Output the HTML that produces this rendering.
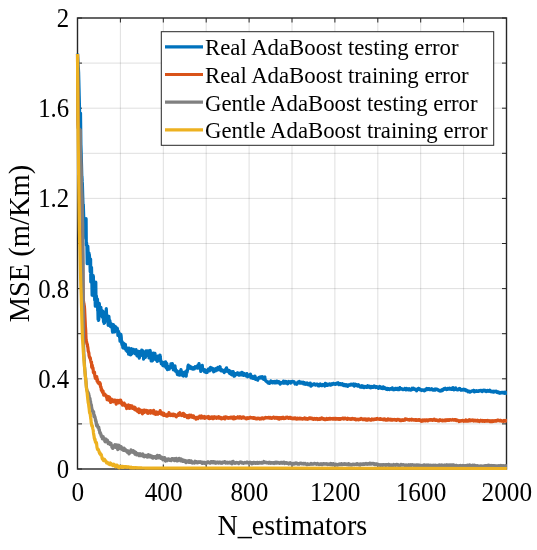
<!DOCTYPE html>
<html><head><meta charset="utf-8"><title>MSE vs N_estimators</title>
<style>
html,body{margin:0;padding:0;background:#fff;}
body{width:537px;height:550px;overflow:hidden;}
svg{display:block;}
text{font-family:"Liberation Serif","Times New Roman",serif;fill:#000;}
.xt text{font-size:25.3px;}
.yt text{font-size:24.8px;}
.lg text{font-size:22.78px;}
.grid line{stroke:#262626;stroke-opacity:0.15;stroke-width:1;}
.ticks line{stroke:#262626;stroke-width:1;}
.curve{fill:none;stroke-width:3.2;stroke-linejoin:round;stroke-linecap:butt;}
</style></head>
<body>
<svg width="537" height="550" viewBox="0 0 537 550">
<rect x="0" y="0" width="537" height="550" fill="#ffffff"/>
<g class="grid">
<line x1="120.40" y1="18.00" x2="120.40" y2="469.00"/>
<line x1="163.30" y1="18.00" x2="163.30" y2="469.00"/>
<line x1="206.20" y1="18.00" x2="206.20" y2="469.00"/>
<line x1="249.10" y1="18.00" x2="249.10" y2="469.00"/>
<line x1="292.00" y1="18.00" x2="292.00" y2="469.00"/>
<line x1="334.90" y1="18.00" x2="334.90" y2="469.00"/>
<line x1="377.80" y1="18.00" x2="377.80" y2="469.00"/>
<line x1="420.70" y1="18.00" x2="420.70" y2="469.00"/>
<line x1="463.60" y1="18.00" x2="463.60" y2="469.00"/>
<line x1="77.50" y1="423.90" x2="506.50" y2="423.90"/>
<line x1="77.50" y1="378.80" x2="506.50" y2="378.80"/>
<line x1="77.50" y1="333.70" x2="506.50" y2="333.70"/>
<line x1="77.50" y1="288.60" x2="506.50" y2="288.60"/>
<line x1="77.50" y1="243.50" x2="506.50" y2="243.50"/>
<line x1="77.50" y1="198.40" x2="506.50" y2="198.40"/>
<line x1="77.50" y1="153.30" x2="506.50" y2="153.30"/>
<line x1="77.50" y1="108.20" x2="506.50" y2="108.20"/>
<line x1="77.50" y1="63.10" x2="506.50" y2="63.10"/>
</g>
<g class="ticks">
<line x1="77.50" y1="469.00" x2="77.50" y2="464.50"/>
<line x1="77.50" y1="18.00" x2="77.50" y2="22.50"/>
<line x1="77.50" y1="469.00" x2="82.00" y2="469.00"/>
<line x1="506.50" y1="469.00" x2="502.00" y2="469.00"/>
<line x1="120.40" y1="469.00" x2="120.40" y2="464.50"/>
<line x1="120.40" y1="18.00" x2="120.40" y2="22.50"/>
<line x1="77.50" y1="423.90" x2="82.00" y2="423.90"/>
<line x1="506.50" y1="423.90" x2="502.00" y2="423.90"/>
<line x1="163.30" y1="469.00" x2="163.30" y2="464.50"/>
<line x1="163.30" y1="18.00" x2="163.30" y2="22.50"/>
<line x1="77.50" y1="378.80" x2="82.00" y2="378.80"/>
<line x1="506.50" y1="378.80" x2="502.00" y2="378.80"/>
<line x1="206.20" y1="469.00" x2="206.20" y2="464.50"/>
<line x1="206.20" y1="18.00" x2="206.20" y2="22.50"/>
<line x1="77.50" y1="333.70" x2="82.00" y2="333.70"/>
<line x1="506.50" y1="333.70" x2="502.00" y2="333.70"/>
<line x1="249.10" y1="469.00" x2="249.10" y2="464.50"/>
<line x1="249.10" y1="18.00" x2="249.10" y2="22.50"/>
<line x1="77.50" y1="288.60" x2="82.00" y2="288.60"/>
<line x1="506.50" y1="288.60" x2="502.00" y2="288.60"/>
<line x1="292.00" y1="469.00" x2="292.00" y2="464.50"/>
<line x1="292.00" y1="18.00" x2="292.00" y2="22.50"/>
<line x1="77.50" y1="243.50" x2="82.00" y2="243.50"/>
<line x1="506.50" y1="243.50" x2="502.00" y2="243.50"/>
<line x1="334.90" y1="469.00" x2="334.90" y2="464.50"/>
<line x1="334.90" y1="18.00" x2="334.90" y2="22.50"/>
<line x1="77.50" y1="198.40" x2="82.00" y2="198.40"/>
<line x1="506.50" y1="198.40" x2="502.00" y2="198.40"/>
<line x1="377.80" y1="469.00" x2="377.80" y2="464.50"/>
<line x1="377.80" y1="18.00" x2="377.80" y2="22.50"/>
<line x1="77.50" y1="153.30" x2="82.00" y2="153.30"/>
<line x1="506.50" y1="153.30" x2="502.00" y2="153.30"/>
<line x1="420.70" y1="469.00" x2="420.70" y2="464.50"/>
<line x1="420.70" y1="18.00" x2="420.70" y2="22.50"/>
<line x1="77.50" y1="108.20" x2="82.00" y2="108.20"/>
<line x1="506.50" y1="108.20" x2="502.00" y2="108.20"/>
<line x1="463.60" y1="469.00" x2="463.60" y2="464.50"/>
<line x1="463.60" y1="18.00" x2="463.60" y2="22.50"/>
<line x1="77.50" y1="63.10" x2="82.00" y2="63.10"/>
<line x1="506.50" y1="63.10" x2="502.00" y2="63.10"/>
<line x1="506.50" y1="469.00" x2="506.50" y2="464.50"/>
<line x1="506.50" y1="18.00" x2="506.50" y2="22.50"/>
<line x1="77.50" y1="18.00" x2="82.00" y2="18.00"/>
<line x1="506.50" y1="18.00" x2="502.00" y2="18.00"/>
</g>
<rect x="77.5" y="18.0" width="429.0" height="451.0" fill="none" stroke="#262626" stroke-width="1.4"/>
<clipPath id="cp"><rect x="75.5" y="18.0" width="431.4" height="454.0"/></clipPath>
<g clip-path="url(#cp)">
<polyline class="curve" stroke="#0072BD" points="77.5,53.6 77.7,57.3 77.9,61.0 78.1,64.8 78.4,68.6 78.6,72.3 78.8,80.1 79.0,88.1 79.2,96.0 79.4,103.7 79.6,112.9 79.9,121.9 80.1,131.2 80.3,137.7 80.5,113.1 80.7,128.2 80.9,145.1 81.2,153.5 81.4,161.0 81.6,168.2 81.8,176.2 82.0,177.7 82.2,181.9 82.4,184.2 82.7,195.4 82.9,201.5 83.1,207.2 83.3,204.0 83.5,210.0 83.7,216.0 83.9,223.8 84.2,225.4 84.4,224.5 84.6,228.9 84.8,227.4 85.0,229.9 85.2,231.7 85.4,233.1 85.7,238.3 85.9,238.7 86.1,218.7 86.3,245.2 86.5,242.2 86.7,245.9 86.9,245.7 87.2,263.6 87.4,251.5 87.6,248.0 87.8,246.1 88.0,249.8 88.2,259.6 88.5,258.9 88.7,255.2 88.9,252.8 89.1,254.3 89.3,254.3 89.5,256.6 89.7,260.5 90.0,263.4 90.2,271.8 90.4,271.2 90.6,259.0 90.8,282.0 91.0,282.1 91.2,274.5 91.5,267.4 91.7,275.0 91.9,283.5 92.1,295.1 92.3,293.9 92.5,290.1 92.7,294.6 93.0,278.8 93.2,275.7 93.4,276.7 93.6,287.7 93.8,295.9 94.0,291.2 94.3,291.9 94.5,292.6 94.7,300.2 94.9,299.2 95.1,298.5 95.3,306.1 95.5,305.1 95.8,282.2 96.0,300.2 96.2,299.5 96.4,295.8 96.6,298.7 96.8,305.6 97.0,301.1 97.3,303.5 97.5,299.2 97.7,310.8 97.9,310.6 98.1,319.5 98.3,319.2 98.5,320.4 98.8,319.1 99.0,311.7 99.2,303.4 99.4,304.1 99.6,307.1 99.8,315.2 100.0,310.2 100.3,310.5 100.5,310.4 100.7,309.3 100.9,307.3 101.1,310.8 101.3,314.2 101.6,315.4 101.8,315.6 102.0,314.5 102.2,317.2 102.4,312.2 102.6,312.4 102.8,311.2 103.1,314.7 103.3,316.4 103.5,321.7 103.7,321.3 103.9,319.9 104.1,323.5 104.3,317.6 104.6,322.7 104.8,314.3 105.0,315.4 105.2,312.2 105.4,313.8 105.6,316.3 105.8,315.5 106.1,312.6 106.3,308.7 106.5,313.2 106.7,316.6 106.9,320.4 107.1,317.9 107.4,317.4 107.6,315.9 107.8,321.4 108.0,322.8 108.2,325.4 108.4,320.7 108.6,319.0 108.9,316.3 109.1,319.1 109.3,319.7 109.5,321.8 109.7,323.4 109.9,320.6 110.1,322.4 110.4,323.0 110.6,326.7 110.8,326.7 111.0,326.0 111.2,323.6 111.4,324.8 111.6,327.4 111.9,324.9 112.1,327.9 112.3,329.0 112.5,331.5 112.7,332.2 112.9,331.9 113.1,328.0 113.4,324.6 113.6,328.2 113.8,328.1 114.0,329.3 114.2,328.5 114.4,331.6 114.7,331.8 114.9,329.5 115.1,329.4 115.3,326.3 115.5,329.5 115.7,329.9 115.9,329.3 116.2,327.7 116.4,328.6 116.6,330.2 116.8,331.3 117.0,331.0 117.2,328.1 117.4,328.8 117.7,331.4 117.9,335.3 118.1,333.8 118.3,331.1 118.5,331.3 118.7,333.6 118.9,334.8 119.2,333.0 119.4,333.9 119.6,337.4 119.8,337.9 120.0,341.1 120.2,338.5 120.5,336.8 120.7,335.7 120.9,334.4 121.1,335.7 121.3,337.7 121.5,342.6 121.7,343.2 122.0,344.8 122.2,341.5 122.4,345.0 122.6,345.6 122.8,347.4 123.0,347.9 123.2,346.2 123.5,343.1 123.7,343.3 123.9,344.6 124.1,345.8 124.3,348.5 124.5,348.1 124.7,346.6 125.0,345.3 125.2,344.5 125.4,344.4 125.6,346.9 125.8,348.7 126.0,350.3 126.2,349.1 126.5,349.6 126.7,350.9 126.9,351.2 127.1,351.4 127.3,348.1 127.5,350.2 127.8,349.3 128.0,350.5 128.2,349.7 128.4,353.0 128.6,354.1 128.8,350.9 129.0,348.1 129.3,348.5 129.5,351.7 129.7,351.1 129.9,349.5 130.1,353.6 130.3,354.8 130.5,354.2 130.8,354.7 131.0,354.6 131.2,353.2 131.4,348.6 131.6,351.9 131.8,353.8 132.0,353.2 132.3,352.9 132.5,351.1 132.7,351.7 132.9,352.9 133.1,352.9 133.3,351.5 133.5,349.4 133.8,350.3 134.0,351.0 134.2,351.4 134.4,349.8 134.6,352.4 134.8,351.6 135.1,353.5 135.3,353.8 135.5,351.8 135.7,350.1 135.9,349.7 136.1,349.6 136.3,351.2 136.6,352.9 136.8,354.1 137.0,355.9 137.2,352.6 137.4,354.6 137.6,355.2 137.8,356.1 138.1,352.6 138.3,351.9 138.5,351.3 138.7,352.6 138.9,354.0 139.1,354.2 139.3,358.1 139.6,355.8 139.8,355.2 140.0,351.7 140.2,352.2 140.4,353.9 140.6,353.0 140.9,353.4 141.1,354.3 141.3,353.7 141.5,352.5 141.7,350.1 141.9,350.9 142.1,354.4 142.4,355.7 142.6,354.5 142.8,352.5 143.0,350.9 143.2,352.6 143.4,355.2 143.6,359.2 143.9,356.4 144.1,356.6 144.3,354.8 144.5,354.7 144.7,354.1 144.9,355.8 145.1,356.2 145.4,357.4 145.6,354.3 145.8,354.5 146.0,353.2 146.2,350.9 146.4,351.2 146.6,351.6 146.9,353.7 147.1,353.5 147.3,354.6 147.5,354.0 147.7,351.4 147.9,350.8 148.2,351.8 148.4,355.8 148.6,354.3 148.8,356.7 149.0,358.0 149.2,356.0 149.4,354.9 149.7,352.6 149.9,353.6 150.1,350.3 150.3,351.9 150.5,352.4 150.7,354.3 150.9,357.4 151.2,361.0 151.4,360.3 151.6,356.8 151.8,353.9 152.0,356.0 152.2,359.4 152.4,360.8 152.7,360.2 152.9,357.6 153.1,355.7 153.3,353.0 153.5,353.0 153.7,354.8 154.0,356.1 154.2,359.1 154.4,357.7 154.6,355.9 154.8,353.6 155.0,353.5 155.2,357.4 155.5,356.8 155.7,358.9 155.9,358.6 156.1,359.8 156.3,358.6 156.5,358.8 156.7,360.2 157.0,360.8 157.2,361.3 157.4,360.4 157.6,357.0 157.8,356.1 158.0,356.7 158.2,360.2 158.5,360.4 158.7,359.9 158.9,359.5 159.1,359.8 159.3,360.7 159.5,358.4 159.7,358.0 160.0,355.0 160.2,356.6 160.4,357.8 160.6,359.7 160.8,361.7 161.0,361.3 161.3,363.8 161.5,363.3 161.7,361.9 161.9,363.0 162.1,362.0 162.3,362.4 162.5,364.2 162.8,365.5 163.0,365.0 163.2,364.0 163.4,363.3 163.6,362.8 163.8,362.6 164.0,363.6 164.3,366.1 164.5,364.8 164.7,363.7 164.9,365.2 165.1,365.5 165.3,364.6 165.5,361.8 165.8,363.5 166.0,365.6 166.2,368.0 166.4,363.0 166.6,364.1 166.8,363.5 167.1,366.0 167.3,368.2 167.5,369.7 167.7,369.3 167.9,366.6 168.1,367.5 168.3,367.0 168.6,367.4 168.8,366.7 169.0,368.4 169.2,369.2 169.4,368.5 169.6,367.7 169.8,367.2 170.1,366.5 170.3,366.2 170.5,367.5 170.7,366.4 170.9,363.9 171.1,364.2 171.3,364.3 171.6,367.1 171.8,366.9 172.0,366.5 172.2,365.8 172.4,363.7 172.6,366.2 172.8,366.7 173.1,368.5 173.3,369.8 173.5,367.7 173.7,367.7 173.9,367.9 174.1,367.4 174.4,367.9 174.6,369.7 174.8,368.0 175.0,365.8 175.2,368.7 175.4,368.4 175.6,371.3 175.9,370.5 176.1,371.0 176.3,371.2 176.5,372.1 176.7,370.5 176.9,371.3 177.1,372.0 177.4,374.6 177.6,374.6 177.8,372.4 178.0,372.3 178.2,371.7 178.4,373.3 178.6,374.0 178.9,372.7 179.1,374.0 179.3,375.1 179.5,375.1 179.7,374.0 179.9,373.2 180.2,371.1 180.4,372.0 180.6,372.2 180.8,371.5 181.0,369.7 181.2,371.7 181.4,373.1 181.7,375.1 181.9,375.1 182.1,373.8 182.3,372.8 182.5,372.0 182.7,373.8 182.9,375.1 183.2,373.8 183.4,376.1 183.6,373.7 183.8,374.9 184.0,373.1 184.2,374.7 184.4,374.8 184.7,374.5 184.9,374.0 185.1,374.4 185.3,371.9 185.5,371.6 185.7,372.4 185.9,375.6 186.2,376.1 186.4,373.7 186.6,371.9 186.8,370.6 187.0,372.5 187.2,371.4 187.5,370.3 187.7,369.3 187.9,366.5 188.1,365.8 188.3,365.1 188.5,366.7 188.7,368.3 189.0,367.1 189.2,367.2 189.4,368.3 189.6,367.6 189.8,367.8 190.0,367.6 190.2,366.4 190.5,367.2 190.7,368.3 190.9,367.6 191.1,368.5 191.3,367.5 191.5,367.2 191.7,367.9 192.0,367.7 192.2,368.6 192.4,368.8 192.6,368.3 192.8,368.3 193.0,369.1 193.3,368.3 193.5,368.2 193.7,367.6 193.9,367.5 194.1,367.9 194.3,369.0 194.5,368.4 194.8,367.3 195.0,367.4 195.2,366.7 195.4,367.7 195.6,366.8 195.8,366.6 196.0,366.9 196.3,367.2 196.5,367.3 196.7,367.9 196.9,366.3 197.1,366.3 197.3,367.2 197.5,368.1 197.8,366.5 198.0,365.0 198.2,365.3 198.4,366.0 198.6,365.9 198.8,365.5 199.0,363.6 199.3,364.8 199.5,365.7 199.7,366.7 199.9,368.3 200.1,368.2 200.3,369.4 200.6,369.6 200.8,371.5 201.0,370.8 201.2,368.6 201.4,368.2 201.6,367.1 201.8,366.1 202.1,366.1 202.3,365.4 202.5,367.4 202.7,369.5 202.9,369.7 203.1,369.9 203.3,370.1 203.6,369.4 203.8,369.3 204.0,370.3 204.2,370.7 204.4,371.4 204.6,371.9 204.8,371.0 205.1,369.8 205.3,371.3 205.5,371.5 205.7,371.5 205.9,372.0 206.1,372.6 206.3,372.6 206.6,370.7 206.8,371.3 207.0,371.7 207.2,372.4 207.4,371.1 207.6,371.2 207.9,371.0 208.1,370.7 208.3,369.1 208.5,369.2 208.7,369.5 208.9,370.0 209.1,370.7 209.4,370.8 209.6,370.9 209.8,369.1 210.0,368.0 210.2,367.6 210.4,367.5 210.6,369.4 210.9,368.9 211.1,368.8 211.3,369.2 211.5,368.4 211.7,368.2 211.9,369.4 212.1,369.4 212.4,370.1 212.6,368.4 212.8,368.6 213.0,368.9 213.2,369.8 213.4,370.5 213.7,371.8 213.9,369.3 214.1,369.1 214.3,370.0 214.5,371.0 214.7,370.2 214.9,369.8 215.2,370.1 215.4,370.4 215.6,370.9 215.8,368.5 216.0,368.8 216.2,368.4 216.4,368.9 216.7,368.3 216.9,369.8 217.1,369.6 217.3,370.1 217.5,369.7 217.7,367.8 217.9,367.4 218.2,367.7 218.4,368.4 218.6,369.4 218.8,368.7 219.0,368.3 219.2,369.1 219.4,369.5 219.7,367.3 219.9,366.7 220.1,367.0 220.3,368.7 220.5,369.0 220.7,370.1 221.0,370.8 221.2,370.9 221.4,370.6 221.6,369.9 221.8,369.6 222.0,370.3 222.2,370.7 222.5,371.1 222.7,370.5 222.9,370.9 223.1,370.4 223.3,370.9 223.5,370.4 223.7,370.5 224.0,371.3 224.2,372.6 224.4,371.7 224.6,370.5 224.8,370.4 225.0,370.4 225.2,370.3 225.5,369.4 225.7,369.8 225.9,371.3 226.1,370.7 226.3,368.2 226.5,367.8 226.8,368.9 227.0,369.4 227.2,370.2 227.4,370.5 227.6,370.8 227.8,371.4 228.0,371.5 228.3,370.6 228.5,371.9 228.7,370.7 228.9,370.6 229.1,371.2 229.3,370.5 229.5,373.3 229.8,372.6 230.0,373.3 230.2,371.0 230.4,371.6 230.6,371.4 230.8,373.5 231.0,374.2 231.3,373.8 231.5,372.9 231.7,374.1 231.9,373.4 232.1,375.0 232.3,373.8 232.5,373.1 232.8,371.5 233.0,372.5 233.2,371.6 233.4,372.6 233.6,374.6 233.8,375.2 234.1,376.2 234.3,376.1 234.5,375.6 234.7,374.8 234.9,376.0 235.1,375.1 235.3,374.1 235.6,373.8 235.8,374.4 236.0,373.7 236.2,373.8 236.4,374.4 236.6,374.4 236.8,374.0 237.1,373.0 237.3,372.9 237.5,373.0 237.7,373.6 237.9,373.0 238.1,373.7 238.3,373.1 238.6,374.4 238.8,375.2 239.0,375.0 239.2,374.9 239.4,375.1 239.6,375.0 239.9,374.3 240.1,374.1 240.3,373.2 240.5,373.6 240.7,373.7 240.9,373.8 241.1,374.5 241.4,374.8 241.6,373.9 241.8,372.4 242.0,373.2 242.2,373.0 242.4,372.6 242.6,373.5 242.9,373.5 243.1,373.9 243.3,374.4 243.5,375.4 243.7,375.0 243.9,374.0 244.1,373.4 244.4,374.2 244.6,373.7 244.8,374.8 245.0,374.8 245.2,374.3 245.4,374.4 245.6,375.0 245.9,375.9 246.1,375.4 246.3,374.8 246.5,374.6 246.7,374.9 246.9,373.7 247.2,374.6 247.4,376.1 247.6,376.8 247.8,376.1 248.0,376.6 248.2,376.1 248.4,375.4 248.7,375.3 248.9,375.1 249.1,375.5 249.3,375.0 249.5,375.1 249.7,375.1 249.9,375.6 250.2,374.4 250.4,374.1 250.6,375.3 250.8,376.9 251.0,377.8 251.2,377.9 251.4,377.9 251.7,376.9 251.9,377.1 252.1,376.7 252.3,376.4 252.5,376.8 252.7,378.3 253.0,378.3 253.2,377.3 253.4,377.1 253.6,377.5 253.8,378.2 254.0,377.6 254.2,378.5 254.5,378.3 254.7,377.7 254.9,376.1 255.1,376.4 255.3,377.5 255.5,379.4 255.7,378.7 256.0,378.5 256.2,378.2 256.4,378.1 256.6,378.3 256.8,378.4 257.0,378.7 257.2,379.1 257.5,380.1 257.7,380.2 257.9,379.3 258.1,378.3 258.3,378.5 258.5,378.5 258.7,378.2 259.0,377.5 259.2,377.4 259.4,377.5 259.6,377.2 259.8,377.2 260.0,377.6 260.3,378.0 260.5,377.2 260.7,377.9 260.9,376.8 261.1,377.6 261.3,377.4 261.5,377.8 261.8,377.3 262.0,376.9 262.2,376.6 262.4,377.0 262.6,377.8 262.8,378.7 263.0,377.5 263.3,378.0 263.5,378.4 263.7,379.3 263.9,379.3 264.1,378.6 264.3,377.6 264.5,377.2 264.8,377.0 265.0,378.8 265.2,379.5 265.4,380.4 265.6,380.5 265.8,380.8 266.1,381.2 266.3,381.0 266.5,381.6 266.7,381.5 266.9,381.8 267.1,381.5 267.3,382.0 267.6,381.7 267.8,382.6 268.0,382.3 268.2,381.9 268.4,383.2 268.6,383.1 268.8,382.1 269.1,383.2 269.3,382.3 269.5,383.5 269.7,382.9 269.9,382.2 270.1,382.6 270.3,382.1 270.6,381.4 270.8,381.6 271.0,381.0 271.2,381.7 271.4,382.3 271.6,381.5 271.8,381.7 272.1,382.6 272.3,382.0 272.5,383.0 272.7,381.6 272.9,381.6 273.1,382.3 273.4,382.6 273.6,382.4 273.8,382.2 274.0,381.9 274.2,382.4 274.4,382.6 274.6,382.8 274.9,382.2 275.1,381.5 275.3,381.7 275.5,382.1 275.7,382.3 275.9,382.9 276.1,382.9 276.4,382.0 276.6,381.7 276.8,381.1 277.0,382.0 277.2,382.3 277.4,382.1 277.6,382.2 277.9,381.7 278.1,382.4 278.3,382.8 278.5,382.1 278.7,381.6 278.9,381.9 279.2,382.1 279.4,382.0 279.6,382.3 279.8,383.0 280.0,383.2 280.2,384.1 280.4,383.3 280.7,383.3 280.9,383.4 281.1,383.3 281.3,382.6 281.5,382.7 281.7,382.6 281.9,382.8 282.2,382.4 282.4,382.8 282.6,382.7 282.8,382.6 283.0,383.0 283.2,381.5 283.4,381.1 283.7,381.5 283.9,382.9 284.1,383.2 284.3,382.2 284.5,381.5 284.7,382.1 284.9,381.8 285.2,381.6 285.4,381.4 285.6,381.5 285.8,382.8 286.0,383.0 286.2,382.6 286.5,381.6 286.7,382.4 286.9,382.0 287.1,382.2 287.3,383.0 287.5,383.3 287.7,383.8 288.0,383.1 288.2,382.7 288.4,381.9 288.6,381.6 288.8,381.4 289.0,382.5 289.2,382.4 289.5,382.5 289.7,382.5 289.9,382.4 290.1,382.2 290.3,382.4 290.5,382.9 290.7,383.0 291.0,381.6 291.2,382.3 291.4,382.2 291.6,382.3 291.8,381.7 292.0,381.7 292.2,382.1 292.5,381.3 292.7,381.6 292.9,381.6 293.1,381.6 293.3,381.7 293.5,382.0 293.8,381.9 294.0,382.1 294.2,381.8 294.4,382.3 294.6,382.6 294.8,383.4 295.0,384.0 295.3,383.4 295.5,383.8 295.7,383.3 295.9,383.6 296.1,383.4 296.3,383.8 296.5,383.4 296.8,384.3 297.0,383.9 297.2,383.1 297.4,383.0 297.6,382.9 297.8,382.1 298.0,382.5 298.3,382.7 298.5,382.8 298.7,382.8 298.9,382.3 299.1,381.7 299.3,381.4 299.6,382.0 299.8,382.7 300.0,382.8 300.2,383.2 300.4,382.3 300.6,382.4 300.8,382.3 301.1,382.4 301.3,382.6 301.5,383.1 301.7,382.2 301.9,382.5 302.1,382.5 302.3,383.1 302.6,383.0 302.8,382.5 303.0,382.3 303.2,382.2 303.4,382.4 303.6,384.0 303.8,383.4 304.1,383.1 304.3,383.7 304.5,384.1 304.7,382.8 304.9,383.3 305.1,383.2 305.3,383.9 305.6,384.0 305.8,384.3 306.0,384.2 306.2,384.1 306.4,383.5 306.6,383.4 306.9,383.2 307.1,382.9 307.3,383.0 307.5,383.7 307.7,384.0 307.9,384.1 308.1,384.7 308.4,384.8 308.6,384.2 308.8,384.9 309.0,384.7 309.2,384.6 309.4,384.6 309.6,383.9 309.9,384.1 310.1,383.2 310.3,383.2 310.5,384.1 310.7,384.6 310.9,386.2 311.1,385.2 311.4,385.3 311.6,384.8 311.8,385.4 312.0,384.9 312.2,384.7 312.4,384.3 312.7,385.0 312.9,384.4 313.1,384.6 313.3,384.6 313.5,384.5 313.7,384.4 313.9,383.8 314.2,384.1 314.4,384.2 314.6,384.0 314.8,384.2 315.0,384.1 315.2,384.6 315.4,385.2 315.7,384.9 315.9,384.6 316.1,384.8 316.3,384.9 316.5,384.6 316.7,384.2 316.9,384.2 317.2,384.5 317.4,384.2 317.6,384.3 317.8,384.9 318.0,385.4 318.2,385.8 318.4,385.2 318.7,385.0 318.9,385.1 319.1,385.5 319.3,385.9 319.5,385.6 319.7,385.0 320.0,384.2 320.2,384.0 320.4,384.8 320.6,385.4 320.8,385.1 321.0,385.1 321.2,385.4 321.5,385.0 321.7,385.3 321.9,385.7 322.1,385.5 322.3,384.9 322.5,384.7 322.7,384.9 323.0,384.5 323.2,384.8 323.4,384.7 323.6,384.7 323.8,385.0 324.0,385.2 324.2,385.5 324.5,385.9 324.7,386.0 324.9,385.3 325.1,384.9 325.3,383.4 325.5,383.8 325.8,383.8 326.0,384.0 326.2,383.8 326.4,383.9 326.6,384.1 326.8,384.5 327.0,385.5 327.3,385.5 327.5,385.1 327.7,385.2 327.9,384.3 328.1,384.6 328.3,384.6 328.5,384.3 328.8,384.4 329.0,384.1 329.2,384.6 329.4,384.1 329.6,383.9 329.8,384.0 330.0,384.1 330.3,385.1 330.5,384.8 330.7,385.0 330.9,384.5 331.1,384.7 331.3,383.8 331.5,384.0 331.8,384.1 332.0,384.5 332.2,384.3 332.4,384.1 332.6,383.7 332.8,383.8 333.1,383.9 333.3,383.5 333.5,383.7 333.7,383.5 333.9,383.7 334.1,384.1 334.3,383.9 334.6,383.9 334.8,384.2 335.0,383.8 335.2,383.7 335.4,384.1 335.6,384.3 335.8,384.2 336.1,384.2 336.3,383.7 336.5,383.5 336.7,383.2 336.9,383.4 337.1,383.9 337.3,383.6 337.6,383.8 337.8,383.4 338.0,383.1 338.2,382.8 338.4,383.5 338.6,384.1 338.9,384.6 339.1,384.5 339.3,384.2 339.5,383.7 339.7,383.6 339.9,384.4 340.1,384.1 340.4,383.6 340.6,384.0 340.8,384.7 341.0,384.1 341.2,384.0 341.4,383.9 341.6,384.3 341.9,384.1 342.1,384.0 342.3,383.7 342.5,384.5 342.7,385.2 342.9,385.2 343.1,385.3 343.4,385.0 343.6,385.5 343.8,385.6 344.0,385.1 344.2,384.8 344.4,384.5 344.6,385.0 344.9,384.7 345.1,384.7 345.3,385.3 345.5,385.6 345.7,385.9 345.9,385.5 346.2,385.5 346.4,384.9 346.6,384.7 346.8,385.3 347.0,385.2 347.2,385.5 347.4,385.8 347.7,386.4 347.9,385.8 348.1,385.6 348.3,385.4 348.5,385.7 348.7,385.0 348.9,385.4 349.2,385.3 349.4,384.8 349.6,384.6 349.8,384.9 350.0,384.7 350.2,385.0 350.4,384.5 350.7,384.9 350.9,384.3 351.1,385.0 351.3,384.6 351.5,384.2 351.7,384.1 352.0,384.6 352.2,384.8 352.4,385.1 352.6,385.1 352.8,384.8 353.0,384.8 353.2,384.6 353.5,384.2 353.7,384.0 353.9,384.7 354.1,385.8 354.3,386.0 354.5,385.8 354.7,385.3 355.0,384.5 355.2,384.5 355.4,384.1 355.6,384.8 355.8,384.8 356.0,385.5 356.2,385.5 356.5,385.1 356.7,385.6 356.9,385.5 357.1,384.7 357.3,385.4 357.5,385.7 357.7,386.2 358.0,386.0 358.2,385.7 358.4,385.1 358.6,384.8 358.8,386.1 359.0,385.8 359.3,386.2 359.5,385.9 359.7,386.1 359.9,386.7 360.1,386.9 360.3,387.1 360.5,386.1 360.8,386.0 361.0,386.1 361.2,386.6 361.4,385.9 361.6,385.8 361.8,385.7 362.0,386.1 362.3,387.3 362.5,387.2 362.7,386.7 362.9,386.1 363.1,386.5 363.3,387.0 363.5,387.3 363.8,386.9 364.0,387.7 364.2,387.1 364.4,387.3 364.6,386.7 364.8,386.3 365.1,386.4 365.3,386.9 365.5,386.6 365.7,387.1 365.9,387.0 366.1,386.8 366.3,387.5 366.6,387.5 366.8,387.4 367.0,386.8 367.2,387.3 367.4,387.2 367.6,386.6 367.8,385.7 368.1,386.7 368.3,386.7 368.5,387.0 368.7,386.7 368.9,386.5 369.1,386.0 369.3,386.0 369.6,386.4 369.8,387.6 370.0,387.4 370.2,387.1 370.4,387.0 370.6,387.4 370.8,387.8 371.1,386.9 371.3,386.4 371.5,386.6 371.7,386.6 371.9,386.7 372.1,386.7 372.4,386.9 372.6,387.0 372.8,387.5 373.0,387.5 373.2,387.5 373.4,386.3 373.6,386.9 373.9,386.1 374.1,386.7 374.3,386.0 374.5,386.5 374.7,386.1 374.9,386.8 375.1,387.2 375.4,387.3 375.6,387.2 375.8,387.5 376.0,386.9 376.2,387.3 376.4,386.6 376.6,387.1 376.9,386.6 377.1,387.1 377.3,386.9 377.5,387.4 377.7,387.2 377.9,387.9 378.1,388.2 378.4,388.3 378.6,388.4 378.8,388.0 379.0,387.2 379.2,387.4 379.4,386.6 379.7,386.4 379.9,386.6 380.1,387.0 380.3,387.6 380.5,387.0 380.7,387.0 380.9,387.2 381.2,387.5 381.4,388.3 381.6,387.6 381.8,387.5 382.0,387.7 382.2,387.4 382.4,388.1 382.7,387.8 382.9,388.6 383.1,388.0 383.3,386.9 383.5,387.2 383.7,387.8 383.9,387.9 384.2,387.9 384.4,387.8 384.6,388.4 384.8,388.2 385.0,387.8 385.2,388.1 385.5,388.9 385.7,389.0 385.9,389.0 386.1,389.0 386.3,388.9 386.5,389.3 386.7,389.1 387.0,388.4 387.2,388.4 387.4,389.2 387.6,389.5 387.8,388.7 388.0,388.5 388.2,388.5 388.5,388.6 388.7,388.6 388.9,389.3 389.1,388.9 389.3,389.2 389.5,389.6 389.7,389.3 390.0,388.9 390.2,388.6 390.4,389.0 390.6,389.0 390.8,388.7 391.0,389.2 391.2,389.0 391.5,389.2 391.7,388.8 391.9,388.3 392.1,388.3 392.3,387.8 392.5,388.5 392.8,388.6 393.0,389.5 393.2,389.7 393.4,389.5 393.6,389.7 393.8,389.6 394.0,389.4 394.3,389.1 394.5,389.2 394.7,389.6 394.9,389.0 395.1,388.8 395.3,388.3 395.5,388.4 395.8,388.9 396.0,388.9 396.2,389.3 396.4,388.8 396.6,389.0 396.8,388.7 397.0,388.3 397.3,388.8 397.5,389.2 397.7,389.6 397.9,389.6 398.1,389.4 398.3,389.4 398.6,388.9 398.8,389.1 399.0,389.2 399.2,389.6 399.4,389.0 399.6,388.4 399.8,387.6 400.1,388.3 400.3,388.4 400.5,389.1 400.7,389.0 400.9,388.8 401.1,389.0 401.3,388.6 401.6,388.7 401.8,388.6 402.0,388.7 402.2,388.9 402.4,388.9 402.6,389.2 402.8,389.6 403.1,389.2 403.3,389.6 403.5,389.4 403.7,389.4 403.9,389.3 404.1,389.4 404.3,389.0 404.6,389.1 404.8,388.4 405.0,388.3 405.2,388.5 405.4,389.0 405.6,389.1 405.9,389.9 406.1,389.4 406.3,388.6 406.5,388.5 406.7,388.8 406.9,389.6 407.1,389.1 407.4,388.9 407.6,389.4 407.8,389.2 408.0,388.9 408.2,388.9 408.4,389.4 408.6,389.9 408.9,389.6 409.1,389.0 409.3,389.2 409.5,389.1 409.7,389.8 409.9,389.1 410.1,389.5 410.4,389.7 410.6,390.0 410.8,390.1 411.0,389.8 411.2,389.6 411.4,389.9 411.7,389.8 411.9,389.4 412.1,389.2 412.3,388.2 412.5,388.5 412.7,388.9 412.9,389.4 413.2,389.3 413.4,388.5 413.6,388.3 413.8,388.8 414.0,388.8 414.2,389.1 414.4,388.8 414.7,388.9 414.9,388.9 415.1,389.6 415.3,389.5 415.5,389.2 415.7,389.5 415.9,389.6 416.2,390.1 416.4,390.1 416.6,390.8 416.8,390.5 417.0,389.4 417.2,389.1 417.4,389.4 417.7,389.1 417.9,388.8 418.1,388.6 418.3,388.4 418.5,388.6 418.7,389.3 419.0,388.4 419.2,388.7 419.4,389.1 419.6,389.3 419.8,389.6 420.0,389.7 420.2,389.6 420.5,389.4 420.7,390.2 420.9,390.1 421.1,390.1 421.3,389.7 421.5,390.2 421.7,390.0 422.0,390.5 422.2,390.1 422.4,390.2 422.6,390.0 422.8,390.1 423.0,390.2 423.2,390.2 423.5,390.1 423.7,389.9 423.9,390.1 424.1,390.3 424.3,390.9 424.5,390.9 424.8,390.5 425.0,390.5 425.2,390.4 425.4,390.3 425.6,389.6 425.8,389.2 426.0,389.0 426.3,389.3 426.5,389.5 426.7,388.8 426.9,388.5 427.1,388.7 427.3,389.0 427.5,389.6 427.8,388.9 428.0,388.7 428.2,388.7 428.4,389.0 428.6,388.9 428.8,389.0 429.0,388.8 429.3,389.3 429.5,389.3 429.7,389.7 429.9,389.0 430.1,389.6 430.3,389.1 430.5,389.5 430.8,389.4 431.0,389.3 431.2,389.6 431.4,389.2 431.6,389.0 431.8,388.8 432.1,389.2 432.3,389.3 432.5,389.4 432.7,389.8 432.9,389.5 433.1,389.5 433.3,390.2 433.6,390.0 433.8,389.7 434.0,389.6 434.2,389.5 434.4,389.6 434.6,389.2 434.8,389.5 435.1,390.2 435.3,389.9 435.5,389.4 435.7,389.0 435.9,388.9 436.1,389.2 436.3,389.4 436.6,389.2 436.8,389.4 437.0,389.3 437.2,389.3 437.4,389.7 437.6,389.5 437.9,390.0 438.1,389.8 438.3,389.9 438.5,390.3 438.7,390.0 438.9,390.0 439.1,390.2 439.4,390.8 439.6,390.4 439.8,390.6 440.0,390.6 440.2,391.0 440.4,390.8 440.6,390.8 440.9,390.8 441.1,390.9 441.3,390.6 441.5,389.9 441.7,389.8 441.9,390.4 442.1,390.7 442.4,389.9 442.6,390.4 442.8,389.5 443.0,389.7 443.2,389.2 443.4,389.1 443.6,389.0 443.9,388.6 444.1,388.8 444.3,389.3 444.5,389.0 444.7,388.6 444.9,388.5 445.2,388.2 445.4,388.5 445.6,388.7 445.8,389.3 446.0,389.4 446.2,389.3 446.4,389.6 446.7,388.9 446.9,389.3 447.1,388.7 447.3,389.4 447.5,389.2 447.7,389.2 447.9,388.5 448.2,388.8 448.4,389.2 448.6,388.6 448.8,389.1 449.0,388.3 449.2,388.9 449.4,389.1 449.7,389.1 449.9,388.2 450.1,388.7 450.3,388.7 450.5,388.6 450.7,388.7 451.0,388.7 451.2,389.4 451.4,388.9 451.6,389.1 451.8,388.4 452.0,388.1 452.2,389.0 452.5,389.3 452.7,388.5 452.9,388.0 453.1,387.7 453.3,388.0 453.5,388.3 453.7,389.1 454.0,389.8 454.2,389.3 454.4,389.3 454.6,388.4 454.8,388.6 455.0,388.9 455.2,388.7 455.5,388.2 455.7,387.9 455.9,388.6 456.1,389.1 456.3,389.0 456.5,389.1 456.7,389.7 457.0,389.8 457.2,389.4 457.4,389.5 457.6,389.9 457.8,389.6 458.0,389.4 458.3,389.8 458.5,389.2 458.7,388.8 458.9,388.6 459.1,388.8 459.3,389.0 459.5,388.7 459.8,388.4 460.0,389.0 460.2,389.6 460.4,389.5 460.6,389.4 460.8,389.8 461.0,390.2 461.3,389.8 461.5,389.6 461.7,390.0 461.9,390.1 462.1,390.1 462.3,390.0 462.5,389.9 462.8,390.0 463.0,389.9 463.2,389.6 463.4,389.3 463.6,389.2 463.8,389.4 464.1,390.0 464.3,389.7 464.5,390.0 464.7,389.6 464.9,390.0 465.1,389.4 465.3,389.7 465.6,390.2 465.8,390.5 466.0,390.5 466.2,390.9 466.4,390.3 466.6,390.2 466.8,390.4 467.1,390.9 467.3,390.8 467.5,390.8 467.7,390.9 467.9,391.4 468.1,391.8 468.3,391.6 468.6,391.3 468.8,391.1 469.0,391.1 469.2,391.7 469.4,391.5 469.6,391.5 469.8,391.6 470.1,392.1 470.3,391.7 470.5,391.8 470.7,391.3 470.9,391.4 471.1,391.3 471.4,391.5 471.6,391.4 471.8,391.0 472.0,390.9 472.2,390.9 472.4,390.8 472.6,391.0 472.9,390.9 473.1,390.7 473.3,390.5 473.5,390.6 473.7,390.5 473.9,391.2 474.1,391.8 474.4,391.6 474.6,391.5 474.8,391.7 475.0,391.0 475.2,391.2 475.4,391.0 475.6,391.1 475.9,391.0 476.1,391.4 476.3,391.2 476.5,391.0 476.7,391.3 476.9,390.7 477.1,391.2 477.4,391.1 477.6,391.4 477.8,391.3 478.0,391.1 478.2,391.2 478.4,391.3 478.7,391.3 478.9,391.3 479.1,390.6 479.3,390.7 479.5,390.6 479.7,390.9 479.9,391.0 480.2,391.0 480.4,390.4 480.6,390.7 480.8,390.8 481.0,390.7 481.2,390.4 481.4,390.9 481.7,390.8 481.9,391.3 482.1,391.6 482.3,391.6 482.5,391.1 482.7,390.9 482.9,390.9 483.2,390.6 483.4,390.2 483.6,390.4 483.8,390.3 484.0,390.4 484.2,390.6 484.5,390.9 484.7,390.9 484.9,391.0 485.1,390.2 485.3,390.4 485.5,390.7 485.7,391.1 486.0,391.1 486.2,391.5 486.4,391.2 486.6,391.3 486.8,390.9 487.0,391.0 487.2,391.2 487.5,390.5 487.7,390.7 487.9,391.1 488.1,391.1 488.3,391.1 488.5,391.1 488.7,390.7 489.0,391.2 489.2,391.0 489.4,390.8 489.6,390.6 489.8,390.2 490.0,390.8 490.2,390.9 490.5,391.6 490.7,391.2 490.9,391.0 491.1,391.2 491.3,391.1 491.5,391.1 491.8,391.5 492.0,391.9 492.2,391.8 492.4,391.6 492.6,391.5 492.8,391.4 493.0,391.3 493.3,391.8 493.5,392.0 493.7,391.3 493.9,391.2 494.1,391.3 494.3,391.3 494.5,391.9 494.8,391.4 495.0,391.4 495.2,391.4 495.4,391.7 495.6,391.7 495.8,391.5 496.0,391.4 496.3,391.2 496.5,391.4 496.7,391.9 496.9,392.3 497.1,392.0 497.3,391.7 497.6,391.8 497.8,392.2 498.0,392.6 498.2,392.6 498.4,392.8 498.6,392.3 498.8,392.2 499.1,392.4 499.3,392.9 499.5,392.9 499.7,393.2 499.9,392.6 500.1,392.5 500.3,392.6 500.6,392.7 500.8,393.0 501.0,392.7 501.2,392.9 501.4,392.4 501.6,392.6 501.8,392.5 502.1,392.7 502.3,392.3 502.5,392.5 502.7,392.6 502.9,392.5 503.1,392.8 503.3,392.7 503.6,392.3 503.8,392.4 504.0,392.6 504.2,393.3 504.4,393.4 504.6,393.1 504.9,392.7 505.1,392.0 505.3,392.0 505.5,392.7 505.7,393.2 505.9,393.4 506.1,393.3 506.4,393.2 506.6,392.9 506.8,393.1 507.0,392.7"/>
<polyline class="curve" stroke="#D95319" points="77.5,54.0 77.7,76.7 77.9,99.4 78.1,122.1 78.4,128.3 78.6,128.6 78.8,129.0 79.0,129.4 79.2,129.7 79.4,130.0 79.6,130.4 79.9,130.8 80.1,135.9 80.3,149.4 80.5,157.2 80.7,164.9 80.9,172.6 81.2,180.5 81.4,188.6 81.6,197.1 81.8,205.3 82.0,213.5 82.2,221.9 82.4,240.5 82.7,264.7 82.9,278.6 83.1,289.4 83.3,300.1 83.5,301.4 83.7,302.5 83.9,304.0 84.2,305.2 84.4,306.5 84.6,309.1 84.8,313.5 85.0,317.8 85.2,321.5 85.4,326.0 85.7,330.3 85.9,335.2 86.1,339.8 86.3,341.6 86.5,341.2 86.7,342.2 86.9,343.8 87.2,344.2 87.4,344.5 87.6,346.9 87.8,347.0 88.0,348.6 88.2,351.2 88.5,351.4 88.7,352.7 88.9,352.9 89.1,355.8 89.3,356.1 89.5,357.3 89.7,357.5 90.0,358.4 90.2,357.5 90.4,358.5 90.6,360.3 90.8,360.9 91.0,362.0 91.2,362.7 91.5,361.9 91.7,367.2 91.9,365.0 92.1,365.0 92.3,365.3 92.5,368.5 92.7,367.7 93.0,367.8 93.2,369.9 93.4,372.6 93.6,371.9 93.8,373.0 94.0,372.1 94.3,374.1 94.5,372.1 94.7,374.6 94.9,376.3 95.1,376.8 95.3,378.3 95.5,377.2 95.8,376.3 96.0,378.5 96.2,377.3 96.4,379.1 96.6,378.4 96.8,376.7 97.0,381.0 97.3,379.1 97.5,379.7 97.7,382.4 97.9,382.3 98.1,382.4 98.3,381.7 98.5,383.3 98.8,382.8 99.0,382.3 99.2,383.1 99.4,383.0 99.6,384.1 99.8,382.5 100.0,385.2 100.3,383.6 100.5,386.6 100.7,387.2 100.9,386.7 101.1,387.6 101.3,390.2 101.6,388.8 101.8,390.8 102.0,391.2 102.2,390.1 102.4,392.1 102.6,391.3 102.8,392.7 103.1,391.1 103.3,393.4 103.5,394.4 103.7,395.1 103.9,395.0 104.1,393.9 104.3,394.0 104.6,393.9 104.8,394.2 105.0,394.5 105.2,394.5 105.4,395.2 105.6,395.5 105.8,395.3 106.1,395.4 106.3,395.7 106.5,397.7 106.7,397.3 106.9,396.5 107.1,399.6 107.4,398.0 107.6,398.4 107.8,399.9 108.0,398.9 108.2,396.7 108.4,397.6 108.6,399.4 108.9,397.7 109.1,398.4 109.3,400.5 109.5,397.1 109.7,400.3 109.9,399.9 110.1,401.1 110.4,400.6 110.6,402.5 110.8,400.9 111.0,400.3 111.2,401.3 111.4,400.6 111.6,399.1 111.9,401.3 112.1,400.0 112.3,401.2 112.5,400.9 112.7,401.2 112.9,400.0 113.1,400.8 113.4,401.8 113.6,401.7 113.8,400.4 114.0,401.2 114.2,401.6 114.4,400.8 114.7,400.2 114.9,400.4 115.1,400.1 115.3,400.7 115.5,401.8 115.7,401.2 115.9,402.5 116.2,404.1 116.4,401.9 116.6,403.3 116.8,402.2 117.0,402.0 117.2,400.4 117.4,401.9 117.7,400.7 117.9,401.1 118.1,402.6 118.3,402.9 118.5,401.0 118.7,401.3 118.9,401.0 119.2,400.4 119.4,402.0 119.6,401.9 119.8,401.6 120.0,401.9 120.2,402.6 120.5,402.7 120.7,400.0 120.9,403.1 121.1,401.8 121.3,401.5 121.5,402.3 121.7,403.7 122.0,403.4 122.2,404.7 122.4,405.1 122.6,404.2 122.8,404.7 123.0,405.1 123.2,403.6 123.5,405.0 123.7,403.6 123.9,403.6 124.1,403.1 124.3,403.4 124.5,403.9 124.7,405.2 125.0,405.3 125.2,405.7 125.4,404.5 125.6,405.4 125.8,405.2 126.0,406.4 126.2,406.3 126.5,407.7 126.7,408.5 126.9,407.2 127.1,407.1 127.3,407.3 127.5,407.8 127.8,406.4 128.0,407.8 128.2,408.1 128.4,404.8 128.6,407.4 128.8,407.7 129.0,407.5 129.3,408.2 129.5,406.0 129.7,408.5 129.9,407.9 130.1,406.9 130.3,407.8 130.5,405.7 130.8,408.0 131.0,407.3 131.2,406.8 131.4,407.4 131.6,406.5 131.8,407.4 132.0,405.9 132.3,408.3 132.5,408.0 132.7,407.4 132.9,408.3 133.1,408.0 133.3,408.1 133.5,407.8 133.8,408.6 134.0,408.2 134.2,409.0 134.4,407.0 134.6,409.6 134.8,407.3 135.1,407.4 135.3,408.3 135.5,409.7 135.7,410.0 135.9,408.5 136.1,410.2 136.3,409.7 136.6,410.4 136.8,409.0 137.0,410.3 137.2,409.7 137.4,411.4 137.6,410.9 137.8,410.3 138.1,410.9 138.3,410.6 138.5,409.6 138.7,409.5 138.9,409.0 139.1,412.6 139.3,410.0 139.6,409.6 139.8,411.8 140.0,412.2 140.2,410.5 140.4,411.5 140.6,411.8 140.9,410.5 141.1,411.4 141.3,411.1 141.5,412.1 141.7,410.9 141.9,410.3 142.1,411.0 142.4,413.8 142.6,410.8 142.8,411.7 143.0,412.1 143.2,410.8 143.4,412.9 143.6,410.8 143.9,412.2 144.1,410.1 144.3,411.1 144.5,412.4 144.7,411.5 144.9,411.3 145.1,410.2 145.4,410.9 145.6,412.0 145.8,411.2 146.0,411.0 146.2,411.2 146.4,411.6 146.6,411.4 146.9,410.5 147.1,410.9 147.3,412.2 147.5,413.0 147.7,410.8 147.9,413.3 148.2,412.0 148.4,412.3 148.6,412.7 148.8,411.3 149.0,411.5 149.2,411.5 149.4,410.8 149.7,412.6 149.9,411.8 150.1,412.3 150.3,412.9 150.5,413.1 150.7,410.6 150.9,412.0 151.2,411.6 151.4,411.9 151.6,411.9 151.8,412.3 152.0,411.8 152.2,411.2 152.4,412.2 152.7,413.1 152.9,412.2 153.1,412.7 153.3,412.5 153.5,411.3 153.7,410.3 154.0,412.0 154.2,413.3 154.4,412.7 154.6,414.0 154.8,413.2 155.0,412.0 155.2,412.3 155.5,414.3 155.7,414.4 155.9,412.1 156.1,412.9 156.3,412.7 156.5,412.0 156.7,413.4 157.0,414.0 157.2,412.7 157.4,413.3 157.6,413.8 157.8,414.2 158.0,412.4 158.2,412.9 158.5,412.6 158.7,412.9 158.9,412.1 159.1,412.1 159.3,412.2 159.5,413.4 159.7,413.4 160.0,412.6 160.2,410.7 160.4,413.3 160.6,413.0 160.8,412.4 161.0,413.1 161.3,414.1 161.5,413.0 161.7,413.9 161.9,413.6 162.1,413.2 162.3,412.8 162.5,413.8 162.8,414.8 163.0,413.9 163.2,414.1 163.4,414.5 163.6,415.3 163.8,414.3 164.0,413.4 164.3,415.4 164.5,415.3 164.7,414.5 164.9,414.9 165.1,415.0 165.3,414.7 165.5,415.4 165.8,415.1 166.0,415.4 166.2,416.0 166.4,415.3 166.6,416.0 166.8,414.5 167.1,416.2 167.3,415.6 167.5,416.1 167.7,414.2 167.9,415.4 168.1,415.7 168.3,414.5 168.6,414.9 168.8,414.4 169.0,412.7 169.2,413.7 169.4,413.2 169.6,414.5 169.8,414.8 170.1,414.9 170.3,415.5 170.5,414.5 170.7,415.2 170.9,414.9 171.1,414.9 171.3,415.1 171.6,415.4 171.8,414.5 172.0,414.2 172.2,415.4 172.4,415.0 172.6,414.8 172.8,415.6 173.1,414.8 173.3,415.1 173.5,414.1 173.7,414.6 173.9,414.8 174.1,415.5 174.4,415.0 174.6,414.6 174.8,414.9 175.0,415.0 175.2,414.6 175.4,415.7 175.6,415.1 175.9,415.7 176.1,416.5 176.3,416.8 176.5,415.9 176.7,416.0 176.9,415.6 177.1,415.3 177.4,415.7 177.6,415.7 177.8,415.4 178.0,415.0 178.2,414.3 178.4,413.9 178.6,415.4 178.9,413.4 179.1,413.6 179.3,413.7 179.5,413.3 179.7,413.2 179.9,412.7 180.2,414.1 180.4,413.5 180.6,414.1 180.8,414.8 181.0,414.1 181.2,414.3 181.4,415.5 181.7,414.7 181.9,414.7 182.1,415.5 182.3,414.4 182.5,414.5 182.7,414.4 182.9,414.4 183.2,413.4 183.4,414.4 183.6,414.6 183.8,413.6 184.0,415.0 184.2,415.4 184.4,416.4 184.7,414.7 184.9,414.7 185.1,415.2 185.3,415.2 185.5,415.5 185.7,415.8 185.9,416.1 186.2,415.5 186.4,415.8 186.6,415.9 186.8,416.9 187.0,416.7 187.2,417.7 187.5,415.8 187.7,417.2 187.9,416.4 188.1,415.9 188.3,416.9 188.5,416.8 188.7,417.8 189.0,416.7 189.2,416.6 189.4,415.2 189.6,415.8 189.8,416.3 190.0,415.6 190.2,415.9 190.5,416.8 190.7,416.8 190.9,416.5 191.1,415.8 191.3,415.2 191.5,417.1 191.7,416.4 192.0,416.7 192.2,415.7 192.4,416.0 192.6,416.8 192.8,417.4 193.0,416.5 193.3,415.8 193.5,416.9 193.7,416.1 193.9,416.7 194.1,418.0 194.3,417.2 194.5,417.9 194.8,418.0 195.0,417.6 195.2,417.8 195.4,418.1 195.6,417.6 195.8,418.3 196.0,419.1 196.3,417.5 196.5,418.0 196.7,417.8 196.9,417.3 197.1,417.7 197.3,417.9 197.5,417.9 197.8,418.4 198.0,418.6 198.2,418.0 198.4,417.0 198.6,417.2 198.8,417.1 199.0,416.9 199.3,416.8 199.5,417.0 199.7,416.0 199.9,416.7 200.1,416.5 200.3,416.8 200.6,416.8 200.8,418.1 201.0,416.8 201.2,417.5 201.4,416.5 201.6,416.0 201.8,416.7 202.1,416.9 202.3,417.8 202.5,417.2 202.7,417.4 202.9,417.2 203.1,417.9 203.3,417.9 203.6,417.2 203.8,417.0 204.0,417.8 204.2,417.0 204.4,416.4 204.6,418.4 204.8,417.5 205.1,418.2 205.3,417.7 205.5,417.4 205.7,417.4 205.9,417.3 206.1,417.0 206.3,417.7 206.6,417.6 206.8,417.3 207.0,417.5 207.2,417.4 207.4,417.5 207.6,416.8 207.9,417.9 208.1,416.6 208.3,416.4 208.5,417.4 208.7,418.3 208.9,416.9 209.1,417.5 209.4,418.6 209.6,417.7 209.8,417.8 210.0,417.8 210.2,417.5 210.4,418.0 210.6,418.2 210.9,418.3 211.1,417.6 211.3,417.3 211.5,416.9 211.7,417.7 211.9,417.3 212.1,417.2 212.4,418.4 212.6,418.5 212.8,417.4 213.0,416.9 213.2,417.5 213.4,418.7 213.7,417.5 213.9,417.7 214.1,416.9 214.3,417.1 214.5,417.0 214.7,417.5 214.9,418.1 215.2,417.3 215.4,417.3 215.6,417.3 215.8,417.1 216.0,417.6 216.2,417.3 216.4,417.6 216.7,418.3 216.9,417.7 217.1,417.8 217.3,417.9 217.5,417.9 217.7,417.1 217.9,417.8 218.2,417.4 218.4,418.0 218.6,417.2 218.8,416.7 219.0,417.0 219.2,417.3 219.4,417.7 219.7,418.0 219.9,417.9 220.1,418.3 220.3,418.3 220.5,417.6 220.7,418.3 221.0,417.4 221.2,418.9 221.4,417.8 221.6,418.4 221.8,418.3 222.0,418.5 222.2,418.1 222.5,418.0 222.7,418.4 222.9,418.4 223.1,417.9 223.3,418.2 223.5,417.9 223.7,418.0 224.0,418.0 224.2,417.2 224.4,418.4 224.6,418.3 224.8,418.9 225.0,418.3 225.2,418.1 225.5,416.8 225.7,417.5 225.9,417.0 226.1,417.6 226.3,417.9 226.5,417.3 226.8,417.1 227.0,417.7 227.2,417.4 227.4,417.3 227.6,418.0 227.8,417.9 228.0,417.9 228.3,417.6 228.5,418.3 228.7,417.7 228.9,417.9 229.1,417.7 229.3,417.6 229.5,417.7 229.8,417.5 230.0,417.9 230.2,417.6 230.4,417.3 230.6,418.0 230.8,417.5 231.0,417.6 231.3,417.8 231.5,417.2 231.7,417.6 231.9,417.7 232.1,417.8 232.3,417.6 232.5,417.2 232.8,418.6 233.0,418.3 233.2,418.4 233.4,417.9 233.6,418.0 233.8,418.9 234.1,416.9 234.3,418.0 234.5,417.6 234.7,418.1 234.9,418.5 235.1,418.3 235.3,417.5 235.6,417.8 235.8,418.0 236.0,417.8 236.2,418.0 236.4,417.8 236.6,417.9 236.8,417.5 237.1,417.8 237.3,417.8 237.5,417.5 237.7,416.9 237.9,417.4 238.1,416.9 238.3,417.7 238.6,417.5 238.8,417.6 239.0,417.1 239.2,418.1 239.4,416.9 239.6,417.6 239.9,417.3 240.1,417.6 240.3,416.9 240.5,417.2 240.7,417.7 240.9,417.8 241.1,417.6 241.4,418.3 241.6,417.9 241.8,417.9 242.0,417.4 242.2,417.8 242.4,417.1 242.6,417.7 242.9,417.8 243.1,417.4 243.3,417.0 243.5,417.7 243.7,417.3 243.9,417.3 244.1,417.6 244.4,417.5 244.6,418.0 244.8,418.2 245.0,418.2 245.2,418.3 245.4,418.4 245.6,418.6 245.9,418.4 246.1,418.5 246.3,418.1 246.5,418.4 246.7,418.8 246.9,418.3 247.2,417.7 247.4,417.8 247.6,418.3 247.8,418.2 248.0,418.2 248.2,418.4 248.4,418.5 248.7,418.4 248.9,417.9 249.1,418.1 249.3,417.6 249.5,417.7 249.7,417.7 249.9,417.6 250.2,417.3 250.4,417.8 250.6,417.7 250.8,417.9 251.0,417.8 251.2,417.5 251.4,417.5 251.7,417.7 251.9,417.8 252.1,417.6 252.3,418.0 252.5,417.9 252.7,418.1 253.0,418.0 253.2,417.7 253.4,418.2 253.6,418.4 253.8,418.0 254.0,417.7 254.2,418.3 254.5,417.9 254.7,418.1 254.9,418.4 255.1,418.1 255.3,418.7 255.5,418.2 255.7,418.1 256.0,418.6 256.2,418.8 256.4,418.5 256.6,418.6 256.8,418.5 257.0,418.3 257.2,418.3 257.5,418.7 257.7,418.2 257.9,418.6 258.1,418.4 258.3,418.3 258.5,418.7 258.7,418.3 259.0,418.7 259.2,418.7 259.4,418.3 259.6,418.9 259.8,419.0 260.0,418.4 260.3,418.5 260.5,418.6 260.7,418.9 260.9,418.3 261.1,418.5 261.3,418.3 261.5,418.8 261.8,418.6 262.0,418.3 262.2,418.7 262.4,417.9 262.6,418.2 262.8,417.9 263.0,418.6 263.3,418.6 263.5,418.9 263.7,418.4 263.9,418.4 264.1,418.2 264.3,418.0 264.5,417.9 264.8,417.8 265.0,418.2 265.2,418.0 265.4,418.0 265.6,417.5 265.8,417.9 266.1,417.8 266.3,417.7 266.5,417.6 266.7,417.9 266.9,418.0 267.1,417.9 267.3,417.7 267.6,417.6 267.8,417.7 268.0,417.7 268.2,417.8 268.4,417.9 268.6,417.4 268.8,417.7 269.1,417.4 269.3,418.1 269.5,417.9 269.7,418.0 269.9,417.6 270.1,417.5 270.3,417.8 270.6,417.6 270.8,418.0 271.0,418.2 271.2,417.7 271.4,418.3 271.6,418.1 271.8,418.4 272.1,417.9 272.3,417.7 272.5,417.7 272.7,417.9 272.9,417.9 273.1,417.5 273.4,417.7 273.6,417.9 273.8,417.8 274.0,417.2 274.2,417.5 274.4,417.9 274.6,417.9 274.9,418.3 275.1,417.9 275.3,417.7 275.5,417.7 275.7,418.1 275.9,418.1 276.1,417.5 276.4,417.8 276.6,418.1 276.8,417.7 277.0,417.5 277.2,418.1 277.4,417.9 277.6,418.6 277.9,418.4 278.1,418.8 278.3,418.9 278.5,418.4 278.7,417.6 278.9,418.7 279.2,419.0 279.4,418.2 279.6,418.1 279.8,417.8 280.0,418.2 280.2,418.3 280.4,418.0 280.7,417.7 280.9,417.8 281.1,417.6 281.3,418.7 281.5,418.5 281.7,418.5 281.9,417.8 282.2,417.4 282.4,417.7 282.6,418.2 282.8,417.8 283.0,417.9 283.2,417.5 283.4,417.9 283.7,417.5 283.9,418.6 284.1,418.1 284.3,418.3 284.5,418.2 284.7,418.0 284.9,418.1 285.2,418.2 285.4,418.4 285.6,418.0 285.8,417.9 286.0,417.6 286.2,417.3 286.5,417.8 286.7,417.5 286.9,417.6 287.1,417.3 287.3,417.2 287.5,417.7 287.7,417.4 288.0,417.4 288.2,417.5 288.4,418.1 288.6,418.3 288.8,418.0 289.0,417.7 289.2,417.6 289.5,417.7 289.7,417.9 289.9,417.5 290.1,417.7 290.3,417.4 290.5,417.6 290.7,418.3 291.0,417.8 291.2,418.1 291.4,418.2 291.6,418.5 291.8,418.3 292.0,417.9 292.2,418.1 292.5,418.2 292.7,418.5 292.9,418.8 293.1,418.4 293.3,418.4 293.5,418.4 293.8,418.1 294.0,418.0 294.2,418.4 294.4,418.3 294.6,418.3 294.8,418.2 295.0,418.8 295.3,418.4 295.5,417.9 295.7,418.6 295.9,418.2 296.1,418.9 296.3,418.3 296.5,418.7 296.8,419.0 297.0,418.6 297.2,418.3 297.4,418.2 297.6,418.2 297.8,418.6 298.0,418.7 298.3,418.8 298.5,418.5 298.7,418.7 298.9,418.7 299.1,418.6 299.3,418.4 299.6,418.8 299.8,418.1 300.0,418.3 300.2,418.8 300.4,418.6 300.6,419.0 300.8,419.0 301.1,418.5 301.3,418.7 301.5,418.9 301.7,418.8 301.9,418.5 302.1,418.9 302.3,419.0 302.6,418.7 302.8,418.6 303.0,418.7 303.2,418.7 303.4,418.8 303.6,418.6 303.8,418.8 304.1,418.7 304.3,418.6 304.5,418.9 304.7,417.9 304.9,418.7 305.1,418.4 305.3,418.5 305.6,418.6 305.8,419.2 306.0,418.9 306.2,418.7 306.4,419.1 306.6,418.5 306.9,418.9 307.1,418.8 307.3,418.7 307.5,419.3 307.7,418.8 307.9,418.7 308.1,419.1 308.4,418.8 308.6,418.4 308.8,418.2 309.0,418.4 309.2,418.0 309.4,417.9 309.6,417.9 309.9,418.0 310.1,418.2 310.3,418.5 310.5,417.9 310.7,418.1 310.9,418.4 311.1,418.4 311.4,418.6 311.6,418.2 311.8,418.2 312.0,418.9 312.2,418.6 312.4,418.6 312.7,418.8 312.9,418.6 313.1,418.9 313.3,419.4 313.5,419.1 313.7,419.0 313.9,418.9 314.2,418.4 314.4,419.2 314.6,418.8 314.8,418.6 315.0,418.7 315.2,418.7 315.4,419.3 315.7,418.9 315.9,418.8 316.1,418.6 316.3,418.8 316.5,418.5 316.7,418.8 316.9,418.9 317.2,419.4 317.4,419.3 317.6,418.6 317.8,419.5 318.0,419.0 318.2,419.2 318.4,418.8 318.7,419.1 318.9,419.1 319.1,419.4 319.3,419.1 319.5,419.0 319.7,419.0 320.0,419.1 320.2,418.5 320.4,419.3 320.6,418.6 320.8,419.1 321.0,418.6 321.2,418.7 321.5,418.2 321.7,417.9 321.9,418.4 322.1,418.1 322.3,418.5 322.5,418.3 322.7,418.9 323.0,418.8 323.2,418.8 323.4,418.9 323.6,418.6 323.8,419.4 324.0,418.9 324.2,419.2 324.5,418.9 324.7,419.6 324.9,419.5 325.1,419.1 325.3,419.6 325.5,419.4 325.8,419.6 326.0,419.1 326.2,418.9 326.4,418.9 326.6,418.5 326.8,418.8 327.0,419.3 327.3,418.7 327.5,419.2 327.7,418.9 327.9,419.3 328.1,419.2 328.3,418.7 328.5,419.0 328.8,419.0 329.0,419.0 329.2,418.9 329.4,418.3 329.6,418.9 329.8,419.1 330.0,418.7 330.3,419.1 330.5,418.8 330.7,418.4 330.9,418.8 331.1,418.9 331.3,418.8 331.5,418.5 331.8,418.6 332.0,418.6 332.2,418.6 332.4,418.6 332.6,419.0 332.8,418.9 333.1,418.4 333.3,419.1 333.5,418.7 333.7,419.0 333.9,419.0 334.1,418.8 334.3,418.4 334.6,418.9 334.8,419.1 335.0,418.8 335.2,418.9 335.4,419.2 335.6,418.4 335.8,419.0 336.1,419.1 336.3,419.1 336.5,419.1 336.7,419.2 336.9,418.7 337.1,419.0 337.3,419.0 337.6,418.7 337.8,419.1 338.0,418.8 338.2,419.2 338.4,419.2 338.6,418.6 338.9,419.4 339.1,418.8 339.3,419.0 339.5,418.9 339.7,418.6 339.9,419.0 340.1,419.3 340.4,418.9 340.6,418.7 340.8,418.9 341.0,418.8 341.2,418.7 341.4,418.7 341.6,418.9 341.9,418.6 342.1,418.6 342.3,418.4 342.5,418.6 342.7,418.1 342.9,418.3 343.1,418.4 343.4,418.4 343.6,419.0 343.8,418.4 344.0,418.5 344.2,418.2 344.4,418.4 344.6,418.5 344.9,418.7 345.1,418.2 345.3,418.1 345.5,418.6 345.7,418.6 345.9,418.6 346.2,418.7 346.4,418.7 346.6,419.0 346.8,419.0 347.0,419.1 347.2,419.3 347.4,418.6 347.7,418.3 347.9,418.9 348.1,418.7 348.3,418.8 348.5,418.8 348.7,418.8 348.9,418.8 349.2,419.1 349.4,418.8 349.6,418.6 349.8,419.1 350.0,418.9 350.2,418.9 350.4,418.8 350.7,419.2 350.9,418.9 351.1,419.3 351.3,418.9 351.5,419.2 351.7,418.8 352.0,418.6 352.2,418.8 352.4,418.4 352.6,419.0 352.8,418.7 353.0,418.8 353.2,419.0 353.5,419.0 353.7,419.0 353.9,418.8 354.1,419.0 354.3,419.4 354.5,418.9 354.7,418.9 355.0,418.8 355.2,419.1 355.4,419.0 355.6,419.6 355.8,419.1 356.0,419.9 356.2,419.7 356.5,419.2 356.7,419.4 356.9,419.4 357.1,419.3 357.3,419.7 357.5,419.3 357.7,419.4 358.0,419.5 358.2,419.3 358.4,419.6 358.6,419.9 358.8,419.4 359.0,419.5 359.3,419.5 359.5,419.5 359.7,419.4 359.9,419.0 360.1,419.0 360.3,419.3 360.5,418.7 360.8,419.2 361.0,419.0 361.2,418.5 361.4,419.1 361.6,418.8 361.8,419.1 362.0,418.9 362.3,419.2 362.5,419.1 362.7,419.3 362.9,419.5 363.1,419.0 363.3,419.3 363.5,419.2 363.8,419.2 364.0,419.5 364.2,419.3 364.4,419.6 364.6,419.2 364.8,419.3 365.1,419.3 365.3,419.2 365.5,419.0 365.7,419.5 365.9,420.0 366.1,419.6 366.3,419.3 366.6,419.3 366.8,420.1 367.0,419.2 367.2,419.5 367.4,420.0 367.6,420.1 367.8,419.4 368.1,419.5 368.3,418.9 368.5,419.4 368.7,419.5 368.9,419.4 369.1,419.7 369.3,419.2 369.6,419.6 369.8,419.5 370.0,419.8 370.2,419.9 370.4,420.0 370.6,419.7 370.8,419.5 371.1,419.6 371.3,419.7 371.5,419.5 371.7,420.1 371.9,419.6 372.1,419.0 372.4,419.3 372.6,419.4 372.8,419.5 373.0,419.4 373.2,419.6 373.4,419.5 373.6,419.3 373.9,419.7 374.1,419.3 374.3,419.2 374.5,419.4 374.7,419.1 374.9,419.1 375.1,419.2 375.4,419.1 375.6,419.2 375.8,419.3 376.0,419.1 376.2,419.3 376.4,418.7 376.6,419.3 376.9,418.7 377.1,418.7 377.3,418.5 377.5,418.8 377.7,418.8 377.9,419.0 378.1,418.8 378.4,418.8 378.6,419.0 378.8,419.0 379.0,419.0 379.2,419.2 379.4,419.4 379.7,419.0 379.9,419.2 380.1,418.9 380.3,418.7 380.5,418.7 380.7,419.0 380.9,418.9 381.2,418.9 381.4,419.4 381.6,419.3 381.8,419.2 382.0,419.1 382.2,419.3 382.4,419.4 382.7,419.4 382.9,419.6 383.1,419.3 383.3,419.4 383.5,419.1 383.7,419.3 383.9,419.8 384.2,419.1 384.4,419.4 384.6,418.9 384.8,419.2 385.0,419.7 385.2,419.5 385.5,420.0 385.7,419.8 385.9,419.5 386.1,419.6 386.3,419.7 386.5,420.0 386.7,419.7 387.0,420.1 387.2,419.6 387.4,419.7 387.6,419.3 387.8,419.7 388.0,418.9 388.2,419.7 388.5,419.5 388.7,419.7 388.9,419.2 389.1,419.5 389.3,419.4 389.5,419.8 389.7,419.5 390.0,419.8 390.2,419.2 390.4,419.3 390.6,419.8 390.8,419.6 391.0,420.2 391.2,420.0 391.5,419.5 391.7,420.1 391.9,419.7 392.1,419.8 392.3,420.0 392.5,419.5 392.8,419.4 393.0,419.7 393.2,419.5 393.4,419.5 393.6,419.6 393.8,419.8 394.0,419.9 394.3,419.7 394.5,419.6 394.7,419.5 394.9,419.7 395.1,419.9 395.3,419.9 395.5,420.1 395.8,419.8 396.0,420.2 396.2,420.0 396.4,420.3 396.6,420.0 396.8,419.8 397.0,419.9 397.3,419.3 397.5,419.4 397.7,419.5 397.9,419.8 398.1,419.6 398.3,419.7 398.6,419.5 398.8,419.4 399.0,419.7 399.2,419.7 399.4,419.7 399.6,419.8 399.8,420.0 400.1,420.6 400.3,419.9 400.5,420.0 400.7,420.3 400.9,420.4 401.1,420.1 401.3,420.5 401.6,419.9 401.8,420.2 402.0,420.2 402.2,420.0 402.4,420.1 402.6,419.8 402.8,419.8 403.1,420.3 403.3,420.2 403.5,420.4 403.7,420.2 403.9,420.1 404.1,419.8 404.3,420.1 404.6,420.2 404.8,419.8 405.0,419.5 405.2,418.9 405.4,419.1 405.6,419.7 405.9,419.2 406.1,419.3 406.3,419.1 406.5,419.1 406.7,419.1 406.9,419.3 407.1,419.4 407.4,419.3 407.6,419.6 407.8,419.6 408.0,419.6 408.2,419.6 408.4,420.0 408.6,420.0 408.9,419.7 409.1,419.7 409.3,420.2 409.5,419.7 409.7,419.9 409.9,419.5 410.1,419.8 410.4,419.9 410.6,419.8 410.8,419.7 411.0,419.8 411.2,419.4 411.4,419.4 411.7,420.0 411.9,419.5 412.1,419.8 412.3,419.4 412.5,419.6 412.7,419.8 412.9,419.8 413.2,419.8 413.4,419.8 413.6,419.6 413.8,419.8 414.0,419.8 414.2,420.2 414.4,419.9 414.7,419.8 414.9,420.0 415.1,419.8 415.3,420.1 415.5,420.1 415.7,420.4 415.9,419.9 416.2,420.1 416.4,420.1 416.6,419.8 416.8,420.2 417.0,420.2 417.2,420.3 417.4,420.2 417.7,419.9 417.9,420.0 418.1,419.8 418.3,419.7 418.5,420.0 418.7,420.3 419.0,420.3 419.2,420.1 419.4,419.7 419.6,419.7 419.8,420.3 420.0,420.4 420.2,420.5 420.5,420.4 420.7,420.7 420.9,421.0 421.1,420.4 421.3,420.2 421.5,420.6 421.7,421.3 422.0,420.6 422.2,420.6 422.4,420.3 422.6,420.9 422.8,421.0 423.0,420.4 423.2,420.5 423.5,420.2 423.7,420.3 423.9,420.5 424.1,420.2 424.3,420.3 424.5,419.9 424.8,420.4 425.0,420.7 425.2,420.9 425.4,420.2 425.6,420.1 425.8,420.7 426.0,419.9 426.3,419.9 426.5,420.1 426.7,420.2 426.9,420.2 427.1,419.9 427.3,420.4 427.5,420.9 427.8,420.2 428.0,420.4 428.2,420.7 428.4,420.6 428.6,420.3 428.8,419.9 429.0,419.8 429.3,420.0 429.5,419.9 429.7,420.1 429.9,419.6 430.1,419.9 430.3,419.6 430.5,420.2 430.8,419.7 431.0,419.8 431.2,420.0 431.4,419.7 431.6,419.9 431.8,420.2 432.1,420.1 432.3,420.0 432.5,420.4 432.7,420.0 432.9,420.1 433.1,420.0 433.3,419.6 433.6,419.4 433.8,419.4 434.0,419.3 434.2,419.2 434.4,419.3 434.6,420.0 434.8,419.9 435.1,420.2 435.3,420.3 435.5,420.3 435.7,420.0 435.9,420.1 436.1,420.2 436.3,419.8 436.6,420.2 436.8,420.3 437.0,420.3 437.2,420.2 437.4,420.2 437.6,420.3 437.9,420.7 438.1,420.3 438.3,420.8 438.5,420.4 438.7,420.5 438.9,420.6 439.1,420.8 439.4,420.0 439.6,419.9 439.8,420.0 440.0,419.7 440.2,419.8 440.4,419.8 440.6,420.1 440.9,420.2 441.1,420.2 441.3,420.5 441.5,420.3 441.7,420.4 441.9,420.6 442.1,420.2 442.4,420.8 442.6,420.6 442.8,420.5 443.0,420.9 443.2,420.4 443.4,420.4 443.6,420.4 443.9,420.6 444.1,420.4 444.3,420.6 444.5,420.4 444.7,420.5 444.9,420.8 445.2,420.8 445.4,420.5 445.6,420.0 445.8,420.6 446.0,420.5 446.2,420.6 446.4,420.0 446.7,420.3 446.9,419.9 447.1,420.3 447.3,420.3 447.5,420.3 447.7,420.0 447.9,420.4 448.2,419.7 448.4,420.1 448.6,420.1 448.8,420.1 449.0,419.9 449.2,419.8 449.4,420.3 449.7,420.0 449.9,419.6 450.1,419.9 450.3,419.7 450.5,419.9 450.7,419.9 451.0,419.8 451.2,419.9 451.4,420.1 451.6,420.1 451.8,420.1 452.0,419.9 452.2,419.8 452.5,419.8 452.7,419.8 452.9,419.5 453.1,419.9 453.3,420.2 453.5,420.1 453.7,419.8 454.0,419.9 454.2,420.0 454.4,419.8 454.6,419.7 454.8,419.8 455.0,420.1 455.2,419.7 455.5,420.0 455.7,420.1 455.9,420.0 456.1,420.2 456.3,420.7 456.5,419.9 456.7,420.5 457.0,420.4 457.2,420.6 457.4,420.5 457.6,420.4 457.8,420.5 458.0,420.4 458.3,420.8 458.5,420.5 458.7,420.5 458.9,420.8 459.1,421.5 459.3,421.2 459.5,420.9 459.8,420.5 460.0,420.5 460.2,421.0 460.4,421.0 460.6,420.8 460.8,420.9 461.0,421.0 461.3,420.6 461.5,420.8 461.7,420.7 461.9,420.6 462.1,420.6 462.3,420.6 462.5,420.3 462.8,420.4 463.0,420.9 463.2,421.0 463.4,421.2 463.6,420.5 463.8,420.5 464.1,420.7 464.3,421.0 464.5,421.1 464.7,421.2 464.9,420.7 465.1,420.6 465.3,420.6 465.6,420.3 465.8,419.9 466.0,420.3 466.2,420.9 466.4,420.7 466.6,421.1 466.8,420.9 467.1,420.7 467.3,420.4 467.5,420.7 467.7,421.0 467.9,420.8 468.1,420.7 468.3,420.5 468.6,421.0 468.8,420.7 469.0,420.2 469.2,420.3 469.4,419.7 469.6,420.4 469.8,420.5 470.1,420.8 470.3,420.3 470.5,420.2 470.7,420.1 470.9,420.5 471.1,420.2 471.4,420.6 471.6,420.6 471.8,420.6 472.0,420.6 472.2,420.1 472.4,420.6 472.6,420.3 472.9,420.1 473.1,420.3 473.3,420.6 473.5,420.2 473.7,420.3 473.9,420.3 474.1,421.0 474.4,420.8 474.6,420.3 474.8,420.1 475.0,420.1 475.2,420.4 475.4,420.6 475.6,420.7 475.9,420.7 476.1,421.0 476.3,420.7 476.5,420.8 476.7,420.5 476.9,420.4 477.1,420.7 477.4,420.2 477.6,421.0 477.8,420.6 478.0,420.4 478.2,420.4 478.4,421.2 478.7,420.8 478.9,420.8 479.1,421.0 479.3,421.5 479.5,421.3 479.7,420.8 479.9,420.7 480.2,420.5 480.4,420.8 480.6,420.3 480.8,420.5 481.0,421.0 481.2,421.0 481.4,420.6 481.7,420.5 481.9,420.6 482.1,420.8 482.3,420.5 482.5,421.3 482.7,421.2 482.9,420.9 483.2,420.7 483.4,420.9 483.6,421.0 483.8,420.9 484.0,420.6 484.2,421.3 484.5,421.2 484.7,421.3 484.9,420.6 485.1,421.0 485.3,420.9 485.5,420.6 485.7,420.7 486.0,421.1 486.2,420.7 486.4,420.7 486.6,420.8 486.8,420.9 487.0,421.1 487.2,420.9 487.5,420.7 487.7,420.4 487.9,420.9 488.1,420.6 488.3,421.0 488.5,420.8 488.7,420.9 489.0,421.0 489.2,421.0 489.4,421.2 489.6,421.0 489.8,421.5 490.0,421.0 490.2,421.3 490.5,421.2 490.7,420.9 490.9,420.8 491.1,421.5 491.3,421.0 491.5,420.8 491.8,420.8 492.0,420.9 492.2,421.1 492.4,421.6 492.6,420.8 492.8,420.8 493.0,420.9 493.3,421.1 493.5,421.3 493.7,421.3 493.9,420.8 494.1,420.9 494.3,421.0 494.5,420.8 494.8,421.0 495.0,420.6 495.2,420.7 495.4,420.7 495.6,420.7 495.8,420.9 496.0,421.1 496.3,420.9 496.5,421.0 496.7,420.7 496.9,420.3 497.1,420.7 497.3,420.5 497.6,420.1 497.8,420.6 498.0,420.2 498.2,420.2 498.4,420.5 498.6,420.6 498.8,420.5 499.1,420.4 499.3,420.7 499.5,420.8 499.7,420.8 499.9,420.8 500.1,420.6 500.3,420.4 500.6,420.6 500.8,420.4 501.0,420.5 501.2,420.6 501.4,421.1 501.6,420.9 501.8,420.8 502.1,421.0 502.3,420.8 502.5,420.8 502.7,421.1 502.9,421.0 503.1,420.9 503.3,421.4 503.6,421.3 503.8,420.9 504.0,421.1 504.2,420.5 504.4,420.8 504.6,420.6 504.9,420.7 505.1,420.6 505.3,420.6 505.5,421.1 505.7,421.1 505.9,421.0 506.1,420.7 506.4,420.6 506.6,420.4 506.8,420.6 507.0,420.8"/>
<polyline class="curve" stroke="#808080" points="77.5,54.0 77.7,76.7 77.9,99.4 78.1,122.1 78.4,128.2 78.6,128.4 78.8,128.5 79.0,128.7 79.2,129.0 79.4,129.3 79.6,129.5 79.9,129.7 80.1,129.8 80.3,129.9 80.5,150.1 80.7,156.7 80.9,163.5 81.2,170.4 81.4,177.4 81.6,185.1 81.8,192.9 82.0,200.5 82.2,208.1 82.4,215.8 82.7,223.5 82.9,242.0 83.1,263.4 83.3,312.9 83.5,342.9 83.7,348.3 83.9,353.6 84.2,358.9 84.4,363.8 84.6,366.9 84.8,369.0 85.0,371.1 85.2,373.6 85.4,376.2 85.7,378.4 85.9,380.6 86.1,383.0 86.3,385.3 86.5,388.0 86.7,389.6 86.9,389.9 87.2,390.5 87.4,391.4 87.6,391.7 87.8,392.7 88.0,392.5 88.2,392.4 88.5,393.9 88.7,393.8 88.9,394.7 89.1,395.3 89.3,397.3 89.5,398.2 89.7,398.8 90.0,398.3 90.2,400.7 90.4,402.0 90.6,401.5 90.8,405.2 91.0,405.9 91.2,404.4 91.5,405.8 91.7,408.5 91.9,408.2 92.1,409.0 92.3,409.7 92.5,411.3 92.7,411.5 93.0,413.2 93.2,412.8 93.4,413.4 93.6,411.7 93.8,414.2 94.0,416.9 94.3,415.2 94.5,415.4 94.7,417.3 94.9,416.6 95.1,417.7 95.3,418.3 95.5,420.8 95.8,420.0 96.0,422.8 96.2,421.3 96.4,424.6 96.6,425.8 96.8,423.9 97.0,424.8 97.3,424.8 97.5,425.5 97.7,426.2 97.9,427.5 98.1,427.2 98.3,427.6 98.5,428.1 98.8,427.3 99.0,430.2 99.2,430.2 99.4,429.8 99.6,431.7 99.8,432.8 100.0,433.3 100.3,432.5 100.5,434.0 100.7,433.5 100.9,435.2 101.1,434.8 101.3,436.5 101.6,436.9 101.8,436.9 102.0,436.9 102.2,436.0 102.4,438.9 102.6,437.1 102.8,436.5 103.1,436.5 103.3,438.5 103.5,438.8 103.7,438.3 103.9,438.0 104.1,438.5 104.3,438.6 104.6,438.8 104.8,441.3 105.0,441.4 105.2,441.8 105.4,441.9 105.6,441.6 105.8,441.0 106.1,439.0 106.3,440.3 106.5,441.3 106.7,440.4 106.9,441.1 107.1,440.5 107.4,440.2 107.6,441.6 107.8,442.4 108.0,442.8 108.2,443.6 108.4,442.7 108.6,442.8 108.9,442.1 109.1,442.4 109.3,442.7 109.5,443.8 109.7,442.5 109.9,444.4 110.1,444.7 110.4,444.7 110.6,444.0 110.8,443.2 111.0,443.5 111.2,445.1 111.4,444.9 111.6,445.5 111.9,447.1 112.1,446.8 112.3,447.9 112.5,447.4 112.7,448.5 112.9,446.6 113.1,446.6 113.4,446.9 113.6,447.4 113.8,446.5 114.0,447.2 114.2,446.7 114.4,445.3 114.7,444.9 114.9,444.6 115.1,446.0 115.3,447.3 115.5,447.1 115.7,447.1 115.9,446.1 116.2,446.5 116.4,445.7 116.6,446.6 116.8,444.8 117.0,446.3 117.2,447.4 117.4,447.0 117.7,449.6 117.9,446.7 118.1,447.4 118.3,447.2 118.5,448.3 118.7,445.0 118.9,447.5 119.2,447.7 119.4,446.8 119.6,448.1 119.8,448.5 120.0,447.4 120.2,448.1 120.5,446.3 120.7,447.1 120.9,446.6 121.1,448.7 121.3,446.9 121.5,447.8 121.7,447.4 122.0,449.5 122.2,448.2 122.4,448.6 122.6,448.3 122.8,450.0 123.0,449.1 123.2,449.1 123.5,450.5 123.7,449.8 123.9,449.7 124.1,448.2 124.3,449.4 124.5,448.6 124.7,449.4 125.0,449.6 125.2,450.3 125.4,450.6 125.6,449.6 125.8,450.9 126.0,450.2 126.2,451.1 126.5,450.4 126.7,451.5 126.9,451.8 127.1,450.7 127.3,452.3 127.5,452.1 127.8,451.6 128.0,450.9 128.2,451.7 128.4,451.8 128.6,451.8 128.8,453.0 129.0,453.9 129.3,453.6 129.5,451.9 129.7,451.9 129.9,452.5 130.1,452.5 130.3,452.2 130.5,451.7 130.8,451.3 131.0,449.9 131.2,452.2 131.4,451.2 131.6,451.4 131.8,451.8 132.0,451.6 132.3,451.6 132.5,451.7 132.7,451.7 132.9,451.7 133.1,452.4 133.3,450.6 133.5,452.5 133.8,452.1 134.0,451.3 134.2,453.2 134.4,452.2 134.6,451.5 134.8,453.2 135.1,454.2 135.3,452.5 135.5,452.9 135.7,453.4 135.9,452.4 136.1,454.4 136.3,453.6 136.6,454.9 136.8,454.0 137.0,454.8 137.2,454.3 137.4,454.1 137.6,454.4 137.8,453.6 138.1,454.6 138.3,454.3 138.5,453.8 138.7,455.3 138.9,455.5 139.1,454.3 139.3,453.9 139.6,453.8 139.8,453.9 140.0,453.7 140.2,454.8 140.4,454.1 140.6,455.7 140.9,454.0 141.1,454.9 141.3,454.3 141.5,454.9 141.7,454.9 141.9,455.1 142.1,454.5 142.4,455.6 142.6,454.3 142.8,454.7 143.0,454.0 143.2,456.0 143.4,456.5 143.6,456.2 143.9,455.6 144.1,455.3 144.3,456.5 144.5,456.7 144.7,456.1 144.9,456.2 145.1,456.6 145.4,456.5 145.6,456.1 145.8,455.4 146.0,456.0 146.2,455.9 146.4,456.3 146.6,456.5 146.9,456.6 147.1,456.2 147.3,457.2 147.5,456.2 147.7,456.3 147.9,456.6 148.2,454.7 148.4,454.6 148.6,456.4 148.8,455.5 149.0,456.8 149.2,456.7 149.4,456.5 149.7,456.3 149.9,456.6 150.1,456.8 150.3,455.4 150.5,456.2 150.7,456.4 150.9,455.9 151.2,456.3 151.4,456.7 151.6,456.9 151.8,457.6 152.0,456.0 152.2,457.4 152.4,457.7 152.7,457.6 152.9,458.2 153.1,456.8 153.3,457.3 153.5,456.6 153.7,456.9 154.0,456.7 154.2,457.6 154.4,457.7 154.6,457.1 154.8,457.6 155.0,456.8 155.2,457.3 155.5,456.6 155.7,457.1 155.9,458.0 156.1,458.4 156.3,456.5 156.5,456.1 156.7,457.0 157.0,457.4 157.2,456.2 157.4,455.4 157.6,457.8 157.8,456.5 158.0,458.0 158.2,457.4 158.5,456.8 158.7,457.3 158.9,457.0 159.1,457.7 159.3,457.3 159.5,455.7 159.7,456.2 160.0,456.8 160.2,457.5 160.4,458.1 160.6,456.9 160.8,458.5 161.0,457.8 161.3,458.1 161.5,458.0 161.7,457.0 161.9,458.0 162.1,458.9 162.3,459.1 162.5,459.1 162.8,458.9 163.0,459.8 163.2,458.4 163.4,458.2 163.6,457.9 163.8,458.7 164.0,458.2 164.3,458.1 164.5,457.6 164.7,458.1 164.9,459.0 165.1,460.2 165.3,460.8 165.5,461.1 165.8,460.5 166.0,459.9 166.2,460.6 166.4,459.1 166.6,459.6 166.8,460.7 167.1,460.7 167.3,460.3 167.5,459.0 167.7,459.0 167.9,459.3 168.1,459.0 168.3,459.7 168.6,459.0 168.8,459.5 169.0,459.9 169.2,459.9 169.4,459.5 169.6,459.5 169.8,460.3 170.1,459.5 170.3,460.2 170.5,460.3 170.7,459.8 170.9,460.2 171.1,460.7 171.3,460.0 171.6,459.1 171.8,459.8 172.0,458.5 172.2,459.2 172.4,459.0 172.6,459.0 172.8,458.9 173.1,459.5 173.3,458.7 173.5,459.3 173.7,459.2 173.9,459.1 174.1,459.6 174.4,460.6 174.6,459.7 174.8,459.2 175.0,458.7 175.2,459.9 175.4,460.1 175.6,460.0 175.9,458.9 176.1,460.6 176.3,460.0 176.5,458.4 176.7,459.7 176.9,461.0 177.1,460.4 177.4,460.1 177.6,460.9 177.8,460.8 178.0,460.5 178.2,459.4 178.4,459.4 178.6,459.9 178.9,459.8 179.1,459.6 179.3,458.3 179.5,459.4 179.7,459.3 179.9,459.8 180.2,460.0 180.4,460.3 180.6,460.9 180.8,460.2 181.0,459.6 181.2,459.0 181.4,459.3 181.7,460.5 181.9,459.9 182.1,460.7 182.3,459.9 182.5,461.4 182.7,459.8 182.9,460.5 183.2,460.7 183.4,461.3 183.6,460.4 183.8,461.2 184.0,461.3 184.2,461.2 184.4,460.3 184.7,460.3 184.9,461.5 185.1,461.3 185.3,461.1 185.5,461.6 185.7,461.6 185.9,462.6 186.2,462.6 186.4,461.7 186.6,461.7 186.8,460.8 187.0,461.7 187.2,461.1 187.5,461.5 187.7,461.2 187.9,461.0 188.1,460.9 188.3,461.7 188.5,461.4 188.7,462.2 189.0,462.4 189.2,462.0 189.4,460.7 189.6,462.0 189.8,461.1 190.0,462.4 190.2,461.9 190.5,462.1 190.7,461.5 190.9,461.5 191.1,460.8 191.3,461.7 191.5,462.6 191.7,461.5 192.0,462.5 192.2,463.0 192.4,462.2 192.6,462.5 192.8,462.8 193.0,462.4 193.3,462.9 193.5,462.1 193.7,462.2 193.9,462.2 194.1,462.8 194.3,462.5 194.5,463.0 194.8,462.1 195.0,462.0 195.2,461.2 195.4,462.2 195.6,461.7 195.8,462.2 196.0,462.2 196.3,462.4 196.5,461.6 196.7,462.7 196.9,462.1 197.1,461.9 197.3,463.0 197.5,462.3 197.8,462.1 198.0,462.3 198.2,462.6 198.4,462.2 198.6,462.1 198.8,462.0 199.0,461.8 199.3,462.1 199.5,462.3 199.7,461.8 199.9,462.4 200.1,462.4 200.3,462.3 200.6,462.0 200.8,461.8 201.0,462.7 201.2,462.7 201.4,462.4 201.6,462.6 201.8,462.6 202.1,463.4 202.3,462.7 202.5,462.6 202.7,463.4 202.9,462.1 203.1,463.0 203.3,462.6 203.6,462.9 203.8,462.7 204.0,462.6 204.2,462.9 204.4,463.0 204.6,462.4 204.8,463.4 205.1,462.5 205.3,463.4 205.5,463.2 205.7,463.8 205.9,462.9 206.1,462.8 206.3,463.1 206.6,462.5 206.8,462.7 207.0,462.5 207.2,462.6 207.4,462.3 207.6,462.8 207.9,462.0 208.1,462.7 208.3,461.9 208.5,462.2 208.7,462.4 208.9,462.6 209.1,462.9 209.4,462.5 209.6,462.5 209.8,462.6 210.0,462.8 210.2,463.2 210.4,463.1 210.6,462.4 210.9,462.5 211.1,461.6 211.3,462.4 211.5,462.0 211.7,462.3 211.9,461.6 212.1,462.5 212.4,462.2 212.6,462.3 212.8,462.6 213.0,462.9 213.2,462.7 213.4,461.6 213.7,462.3 213.9,462.6 214.1,462.7 214.3,462.6 214.5,462.6 214.7,462.5 214.9,462.0 215.2,462.2 215.4,463.3 215.6,462.9 215.8,462.2 216.0,463.1 216.2,462.6 216.4,462.3 216.7,462.2 216.9,462.0 217.1,462.0 217.3,462.6 217.5,462.6 217.7,462.7 217.9,462.2 218.2,462.6 218.4,463.0 218.6,462.5 218.8,462.3 219.0,462.5 219.2,462.3 219.4,462.7 219.7,462.3 219.9,462.5 220.1,462.5 220.3,463.1 220.5,462.5 220.7,462.1 221.0,462.8 221.2,462.4 221.4,462.8 221.6,463.0 221.8,462.5 222.0,462.4 222.2,463.3 222.5,462.8 222.7,462.4 222.9,462.7 223.1,462.7 223.3,462.6 223.5,462.1 223.7,462.2 224.0,461.9 224.2,462.3 224.4,462.1 224.6,462.0 224.8,461.7 225.0,462.0 225.2,462.2 225.5,462.3 225.7,463.1 225.9,462.8 226.1,462.8 226.3,462.3 226.5,462.3 226.8,462.6 227.0,462.4 227.2,462.4 227.4,462.8 227.6,462.4 227.8,463.1 228.0,462.9 228.3,462.5 228.5,462.4 228.7,462.9 228.9,462.6 229.1,462.4 229.3,462.9 229.5,462.2 229.8,462.6 230.0,462.7 230.2,463.0 230.4,462.9 230.6,462.9 230.8,462.6 231.0,463.0 231.3,462.4 231.5,462.0 231.7,462.3 231.9,463.8 232.1,462.4 232.3,462.2 232.5,463.4 232.8,462.1 233.0,462.1 233.2,461.4 233.4,462.5 233.6,462.5 233.8,462.6 234.1,462.5 234.3,462.8 234.5,463.0 234.7,462.7 234.9,463.3 235.1,463.0 235.3,463.3 235.6,463.2 235.8,462.7 236.0,463.0 236.2,462.8 236.4,462.6 236.6,462.4 236.8,462.9 237.1,463.0 237.3,462.8 237.5,462.6 237.7,462.7 237.9,462.9 238.1,462.8 238.3,463.2 238.6,463.6 238.8,462.9 239.0,462.7 239.2,462.5 239.4,462.7 239.6,462.6 239.9,462.1 240.1,462.6 240.3,462.5 240.5,462.1 240.7,462.5 240.9,462.2 241.1,462.7 241.4,462.4 241.6,462.5 241.8,462.3 242.0,463.1 242.2,463.2 242.4,462.6 242.6,463.1 242.9,462.9 243.1,463.0 243.3,463.0 243.5,463.3 243.7,462.9 243.9,463.0 244.1,463.0 244.4,462.7 244.6,462.5 244.8,462.4 245.0,462.6 245.2,462.9 245.4,462.6 245.6,462.6 245.9,462.7 246.1,462.4 246.3,462.6 246.5,462.6 246.7,462.2 246.9,462.9 247.2,462.6 247.4,462.3 247.6,462.6 247.8,462.8 248.0,462.5 248.2,462.8 248.4,462.9 248.7,463.2 248.9,462.7 249.1,462.5 249.3,462.7 249.5,462.5 249.7,462.9 249.9,462.6 250.2,462.4 250.4,462.8 250.6,463.0 250.8,462.5 251.0,462.7 251.2,463.0 251.4,462.8 251.7,463.4 251.9,463.8 252.1,462.8 252.3,462.6 252.5,463.3 252.7,463.2 253.0,463.0 253.2,463.4 253.4,462.8 253.6,462.4 253.8,462.5 254.0,462.8 254.2,462.4 254.5,463.0 254.7,463.0 254.9,463.1 255.1,463.2 255.3,463.3 255.5,462.6 255.7,463.2 256.0,463.4 256.2,463.3 256.4,462.8 256.6,462.8 256.8,462.9 257.0,462.7 257.2,462.3 257.5,462.8 257.7,463.1 257.9,463.3 258.1,462.9 258.3,463.1 258.5,463.1 258.7,463.2 259.0,462.8 259.2,462.6 259.4,463.1 259.6,462.5 259.8,462.9 260.0,462.6 260.3,462.9 260.5,462.6 260.7,462.6 260.9,463.0 261.1,462.9 261.3,462.4 261.5,462.4 261.8,462.6 262.0,462.6 262.2,463.0 262.4,462.8 262.6,463.1 262.8,463.0 263.0,462.8 263.3,462.8 263.5,462.3 263.7,462.1 263.9,461.5 264.1,462.4 264.3,462.2 264.5,462.1 264.8,462.2 265.0,462.6 265.2,462.3 265.4,462.7 265.6,462.4 265.8,462.4 266.1,462.5 266.3,462.8 266.5,462.4 266.7,462.6 266.9,462.5 267.1,462.8 267.3,462.7 267.6,462.7 267.8,462.7 268.0,462.8 268.2,462.9 268.4,463.2 268.6,463.0 268.8,462.6 269.1,462.3 269.3,462.5 269.5,462.8 269.7,463.1 269.9,463.2 270.1,463.0 270.3,462.5 270.6,463.3 270.8,462.8 271.0,463.0 271.2,462.7 271.4,462.6 271.6,462.7 271.8,462.7 272.1,462.8 272.3,463.1 272.5,462.8 272.7,462.7 272.9,462.7 273.1,462.7 273.4,462.6 273.6,462.6 273.8,462.8 274.0,462.6 274.2,463.5 274.4,462.6 274.6,462.6 274.9,462.7 275.1,462.6 275.3,462.3 275.5,462.6 275.7,463.0 275.9,462.8 276.1,462.3 276.4,462.6 276.6,462.3 276.8,462.6 277.0,463.0 277.2,462.7 277.4,462.9 277.6,462.5 277.9,462.6 278.1,462.4 278.3,462.5 278.5,462.5 278.7,462.5 278.9,462.5 279.2,463.2 279.4,463.3 279.6,463.1 279.8,463.1 280.0,463.0 280.2,463.0 280.4,462.5 280.7,462.9 280.9,463.0 281.1,463.1 281.3,462.4 281.5,462.4 281.7,462.3 281.9,462.5 282.2,462.4 282.4,462.5 282.6,463.0 282.8,463.2 283.0,462.7 283.2,462.6 283.4,462.7 283.7,462.6 283.9,462.1 284.1,462.7 284.3,463.1 284.5,463.0 284.7,463.3 284.9,463.5 285.2,463.3 285.4,463.0 285.6,463.0 285.8,462.6 286.0,462.7 286.2,463.2 286.5,463.0 286.7,463.4 286.9,462.7 287.1,463.2 287.3,463.1 287.5,463.4 287.7,463.4 288.0,463.4 288.2,463.2 288.4,463.5 288.6,463.7 288.8,464.0 289.0,463.4 289.2,463.1 289.5,463.4 289.7,462.8 289.9,462.8 290.1,462.7 290.3,462.8 290.5,463.2 290.7,463.2 291.0,463.7 291.2,463.5 291.4,463.5 291.6,463.5 291.8,463.5 292.0,463.7 292.2,463.7 292.5,463.9 292.7,463.9 292.9,464.0 293.1,463.3 293.3,463.8 293.5,463.9 293.8,463.9 294.0,463.6 294.2,464.1 294.4,463.9 294.6,463.4 294.8,463.9 295.0,463.5 295.3,463.2 295.5,463.6 295.7,463.2 295.9,462.9 296.1,463.2 296.3,463.7 296.5,463.1 296.8,463.4 297.0,463.5 297.2,463.4 297.4,464.0 297.6,464.1 297.8,463.8 298.0,463.8 298.3,464.1 298.5,463.9 298.7,463.7 298.9,463.8 299.1,463.8 299.3,464.0 299.6,463.6 299.8,463.4 300.0,463.2 300.2,463.5 300.4,463.3 300.6,463.5 300.8,463.5 301.1,463.5 301.3,463.3 301.5,463.5 301.7,463.7 301.9,463.9 302.1,463.6 302.3,463.7 302.6,463.6 302.8,463.7 303.0,463.5 303.2,463.9 303.4,463.4 303.6,463.8 303.8,464.1 304.1,463.6 304.3,463.8 304.5,463.7 304.7,463.7 304.9,463.3 305.1,464.0 305.3,464.0 305.6,464.0 305.8,463.9 306.0,463.9 306.2,464.4 306.4,464.5 306.6,464.2 306.9,464.0 307.1,464.5 307.3,464.6 307.5,464.0 307.7,464.2 307.9,463.9 308.1,464.2 308.4,464.4 308.6,464.5 308.8,464.4 309.0,464.4 309.2,464.2 309.4,464.2 309.6,464.5 309.9,464.4 310.1,464.4 310.3,464.2 310.5,464.0 310.7,464.0 310.9,463.9 311.1,463.5 311.4,463.9 311.6,464.1 311.8,464.0 312.0,464.2 312.2,463.9 312.4,463.8 312.7,463.9 312.9,464.0 313.1,463.9 313.3,464.1 313.5,463.9 313.7,463.7 313.9,463.9 314.2,463.9 314.4,463.3 314.6,463.8 314.8,463.7 315.0,463.8 315.2,463.7 315.4,463.8 315.7,464.0 315.9,463.7 316.1,464.2 316.3,463.8 316.5,463.8 316.7,464.3 316.9,463.8 317.2,463.7 317.4,464.0 317.6,463.5 317.8,463.6 318.0,464.1 318.2,464.0 318.4,464.1 318.7,464.2 318.9,464.5 319.1,464.6 319.3,464.3 319.5,464.2 319.7,464.3 320.0,464.2 320.2,464.2 320.4,463.9 320.6,464.1 320.8,464.0 321.0,464.4 321.2,464.1 321.5,463.9 321.7,463.9 321.9,463.8 322.1,464.0 322.3,464.7 322.5,464.6 322.7,464.0 323.0,464.0 323.2,463.7 323.4,463.9 323.6,463.8 323.8,463.6 324.0,464.1 324.2,464.1 324.5,464.1 324.7,463.8 324.9,463.6 325.1,463.8 325.3,463.9 325.5,463.8 325.8,464.1 326.0,464.0 326.2,464.1 326.4,463.7 326.6,463.8 326.8,464.2 327.0,464.3 327.3,464.3 327.5,464.2 327.7,464.6 327.9,464.2 328.1,464.3 328.3,464.3 328.5,464.1 328.8,464.2 329.0,464.0 329.2,464.4 329.4,464.1 329.6,464.4 329.8,464.2 330.0,464.6 330.3,464.4 330.5,464.0 330.7,463.5 330.9,463.9 331.1,464.5 331.3,464.4 331.5,464.2 331.8,464.4 332.0,464.0 332.2,465.0 332.4,464.7 332.6,464.7 332.8,463.8 333.1,464.3 333.3,463.6 333.5,464.4 333.7,464.1 333.9,464.1 334.1,464.1 334.3,464.4 334.6,465.1 334.8,464.7 335.0,464.6 335.2,464.1 335.4,464.1 335.6,464.2 335.8,464.6 336.1,464.3 336.3,464.7 336.5,464.4 336.7,464.8 336.9,465.0 337.1,465.1 337.3,464.8 337.6,465.0 337.8,464.8 338.0,464.5 338.2,464.6 338.4,464.6 338.6,464.2 338.9,464.5 339.1,464.3 339.3,464.7 339.5,464.2 339.7,464.3 339.9,463.9 340.1,464.5 340.4,464.6 340.6,464.1 340.8,464.0 341.0,464.6 341.2,464.3 341.4,464.0 341.6,463.8 341.9,464.2 342.1,464.2 342.3,464.7 342.5,464.1 342.7,464.6 342.9,464.4 343.1,464.1 343.4,464.1 343.6,464.2 343.8,464.4 344.0,464.2 344.2,464.2 344.4,463.9 344.6,463.6 344.9,464.0 345.1,464.4 345.3,464.3 345.5,463.8 345.7,463.9 345.9,464.3 346.2,464.3 346.4,464.3 346.6,464.1 346.8,464.7 347.0,464.3 347.2,464.3 347.4,464.3 347.7,464.3 347.9,464.4 348.1,464.4 348.3,464.9 348.5,463.7 348.7,464.3 348.9,464.5 349.2,464.7 349.4,464.3 349.6,464.0 349.8,464.2 350.0,464.9 350.2,464.9 350.4,464.8 350.7,464.8 350.9,464.6 351.1,465.0 351.3,464.7 351.5,464.8 351.7,464.4 352.0,464.3 352.2,464.7 352.4,464.8 352.6,464.7 352.8,464.2 353.0,464.7 353.2,464.5 353.5,464.1 353.7,464.3 353.9,464.4 354.1,464.4 354.3,464.7 354.5,464.5 354.7,464.4 355.0,464.4 355.2,464.3 355.4,464.1 355.6,464.0 355.8,464.1 356.0,464.3 356.2,464.5 356.5,464.1 356.7,464.2 356.9,464.3 357.1,463.6 357.3,464.4 357.5,464.0 357.7,464.3 358.0,464.6 358.2,464.4 358.4,464.5 358.6,464.2 358.8,464.6 359.0,464.8 359.3,464.5 359.5,464.4 359.7,464.4 359.9,464.4 360.1,465.2 360.3,463.9 360.5,463.9 360.8,464.1 361.0,464.3 361.2,464.3 361.4,464.3 361.6,464.3 361.8,464.1 362.0,464.4 362.3,464.2 362.5,464.0 362.7,464.3 362.9,464.2 363.1,464.5 363.3,464.1 363.5,464.2 363.8,463.9 364.0,464.0 364.2,464.0 364.4,464.3 364.6,464.1 364.8,463.8 365.1,463.6 365.3,464.1 365.5,463.8 365.7,463.5 365.9,463.4 366.1,464.1 366.3,464.0 366.6,464.2 366.8,464.1 367.0,464.3 367.2,464.3 367.4,463.8 367.6,463.7 367.8,464.1 368.1,463.9 368.3,463.9 368.5,464.1 368.7,463.9 368.9,463.6 369.1,463.4 369.3,463.4 369.6,463.5 369.8,463.3 370.0,463.7 370.2,463.2 370.4,464.1 370.6,464.0 370.8,463.7 371.1,463.6 371.3,464.0 371.5,463.8 371.7,463.9 371.9,463.4 372.1,463.8 372.4,463.6 372.6,464.0 372.8,464.0 373.0,463.4 373.2,463.6 373.4,463.7 373.6,463.5 373.9,464.2 374.1,464.4 374.3,464.0 374.5,464.6 374.7,464.3 374.9,464.0 375.1,464.5 375.4,464.2 375.6,463.9 375.8,464.6 376.0,464.2 376.2,464.0 376.4,464.3 376.6,464.3 376.9,463.9 377.1,464.5 377.3,464.3 377.5,464.4 377.7,464.3 377.9,464.9 378.1,464.3 378.4,464.7 378.6,464.4 378.8,465.0 379.0,464.9 379.2,464.9 379.4,464.9 379.7,464.8 379.9,464.9 380.1,465.1 380.3,465.2 380.5,465.6 380.7,464.9 380.9,464.6 381.2,464.7 381.4,464.9 381.6,464.9 381.8,464.9 382.0,464.9 382.2,464.8 382.4,464.9 382.7,465.4 382.9,464.7 383.1,464.7 383.3,464.6 383.5,464.9 383.7,464.5 383.9,464.5 384.2,465.2 384.4,465.2 384.6,464.8 384.8,465.0 385.0,464.8 385.2,465.1 385.5,465.0 385.7,465.6 385.9,465.4 386.1,465.2 386.3,465.2 386.5,465.1 386.7,464.8 387.0,465.1 387.2,465.1 387.4,464.6 387.6,464.8 387.8,464.6 388.0,464.6 388.2,464.7 388.5,464.4 388.7,464.9 388.9,464.5 389.1,464.9 389.3,465.6 389.5,465.4 389.7,465.1 390.0,465.4 390.2,465.3 390.4,465.2 390.6,465.5 390.8,465.1 391.0,465.2 391.2,465.2 391.5,465.3 391.7,464.9 391.9,465.1 392.1,465.1 392.3,465.1 392.5,465.4 392.8,465.0 393.0,465.0 393.2,465.3 393.4,464.7 393.6,464.5 393.8,464.8 394.0,464.7 394.3,464.8 394.5,465.2 394.7,464.8 394.9,464.9 395.1,465.1 395.3,465.3 395.5,464.8 395.8,464.8 396.0,465.1 396.2,465.1 396.4,465.1 396.6,465.2 396.8,464.4 397.0,464.3 397.3,464.7 397.5,465.1 397.7,464.6 397.9,465.0 398.1,465.0 398.3,465.6 398.6,465.0 398.8,465.1 399.0,465.2 399.2,465.1 399.4,465.2 399.6,465.5 399.8,465.1 400.1,465.4 400.3,465.1 400.5,465.4 400.7,464.8 400.9,464.5 401.1,464.7 401.3,464.5 401.6,465.0 401.8,464.7 402.0,465.0 402.2,464.9 402.4,465.0 402.6,465.0 402.8,464.9 403.1,465.1 403.3,465.0 403.5,464.8 403.7,464.6 403.9,465.1 404.1,465.1 404.3,465.0 404.6,465.2 404.8,465.2 405.0,465.6 405.2,465.5 405.4,465.3 405.6,465.5 405.9,465.5 406.1,465.0 406.3,465.4 406.5,465.3 406.7,465.2 406.9,465.1 407.1,465.4 407.4,465.7 407.6,465.3 407.8,465.3 408.0,465.3 408.2,465.3 408.4,464.9 408.6,465.4 408.9,464.9 409.1,465.2 409.3,464.9 409.5,465.2 409.7,465.5 409.9,465.0 410.1,465.0 410.4,465.1 410.6,465.0 410.8,465.1 411.0,464.7 411.2,465.4 411.4,465.1 411.7,465.3 411.9,464.8 412.1,465.1 412.3,465.0 412.5,464.6 412.7,464.7 412.9,464.9 413.2,464.8 413.4,464.8 413.6,465.3 413.8,465.1 414.0,465.2 414.2,465.2 414.4,465.3 414.7,465.1 414.9,465.3 415.1,465.2 415.3,465.3 415.5,465.6 415.7,465.9 415.9,466.2 416.2,465.6 416.4,465.8 416.6,465.0 416.8,465.8 417.0,465.4 417.2,465.8 417.4,465.1 417.7,465.5 417.9,465.3 418.1,465.6 418.3,465.1 418.5,465.2 418.7,465.2 419.0,464.9 419.2,465.2 419.4,465.3 419.6,465.3 419.8,465.4 420.0,465.4 420.2,465.6 420.5,465.7 420.7,466.1 420.9,465.4 421.1,465.8 421.3,465.6 421.5,465.6 421.7,466.2 422.0,465.6 422.2,465.7 422.4,465.5 422.6,465.7 422.8,465.5 423.0,465.5 423.2,465.3 423.5,465.2 423.7,465.6 423.9,465.6 424.1,464.9 424.3,465.5 424.5,465.7 424.8,465.6 425.0,465.4 425.2,465.2 425.4,465.6 425.6,465.5 425.8,465.2 426.0,465.2 426.3,465.4 426.5,465.4 426.7,465.6 426.9,465.2 427.1,465.5 427.3,465.3 427.5,465.1 427.8,465.0 428.0,465.1 428.2,465.1 428.4,465.7 428.6,465.6 428.8,465.2 429.0,465.6 429.3,465.8 429.5,465.5 429.7,465.3 429.9,465.4 430.1,465.5 430.3,465.5 430.5,465.6 430.8,465.1 431.0,465.5 431.2,465.6 431.4,465.4 431.6,465.7 431.8,465.9 432.1,466.1 432.3,465.7 432.5,466.0 432.7,465.8 432.9,465.3 433.1,465.2 433.3,465.7 433.6,465.9 433.8,465.7 434.0,465.9 434.2,465.6 434.4,465.4 434.6,465.6 434.8,465.4 435.1,465.9 435.3,465.8 435.5,465.2 435.7,465.6 435.9,465.5 436.1,465.4 436.3,465.3 436.6,465.7 436.8,465.7 437.0,465.9 437.2,466.1 437.4,465.6 437.6,465.7 437.9,466.1 438.1,465.5 438.3,465.8 438.5,465.1 438.7,465.5 438.9,465.6 439.1,465.4 439.4,465.6 439.6,465.5 439.8,465.0 440.0,465.1 440.2,465.1 440.4,465.1 440.6,465.2 440.9,465.5 441.1,465.3 441.3,465.7 441.5,465.2 441.7,465.5 441.9,465.2 442.1,465.6 442.4,465.5 442.6,465.5 442.8,465.1 443.0,465.4 443.2,465.4 443.4,466.0 443.6,465.6 443.9,465.6 444.1,465.7 444.3,465.6 444.5,465.3 444.7,465.7 444.9,465.1 445.2,465.6 445.4,465.1 445.6,465.4 445.8,465.3 446.0,465.3 446.2,465.2 446.4,465.0 446.7,465.5 446.9,464.9 447.1,465.3 447.3,465.1 447.5,465.7 447.7,465.2 447.9,464.9 448.2,465.2 448.4,465.4 448.6,465.4 448.8,465.2 449.0,465.2 449.2,465.5 449.4,465.0 449.7,465.2 449.9,465.5 450.1,465.4 450.3,465.5 450.5,465.5 450.7,464.9 451.0,465.7 451.2,465.1 451.4,465.4 451.6,466.0 451.8,465.6 452.0,464.9 452.2,465.4 452.5,465.6 452.7,465.1 452.9,465.6 453.1,465.4 453.3,465.2 453.5,465.5 453.7,465.1 454.0,465.5 454.2,465.2 454.4,465.8 454.6,465.8 454.8,465.9 455.0,465.5 455.2,465.8 455.5,465.9 455.7,465.7 455.9,465.7 456.1,466.1 456.3,465.5 456.5,465.9 456.7,465.4 457.0,465.6 457.2,465.8 457.4,465.8 457.6,465.9 457.8,465.9 458.0,466.1 458.3,466.2 458.5,466.2 458.7,466.0 458.9,466.1 459.1,465.8 459.3,466.2 459.5,465.7 459.8,465.9 460.0,465.6 460.2,465.9 460.4,466.4 460.6,466.2 460.8,465.5 461.0,465.7 461.3,465.7 461.5,466.0 461.7,466.1 461.9,466.2 462.1,466.2 462.3,466.2 462.5,465.9 462.8,465.5 463.0,465.9 463.2,466.1 463.4,465.6 463.6,465.8 463.8,466.2 464.1,465.9 464.3,465.8 464.5,465.7 464.7,465.9 464.9,465.8 465.1,465.9 465.3,465.7 465.6,465.7 465.8,465.6 466.0,465.6 466.2,465.5 466.4,465.5 466.6,466.1 466.8,465.4 467.1,465.4 467.3,465.7 467.5,465.4 467.7,465.5 467.9,465.3 468.1,465.8 468.3,465.4 468.6,465.3 468.8,465.6 469.0,465.9 469.2,465.7 469.4,466.0 469.6,465.4 469.8,465.0 470.1,465.4 470.3,465.5 470.5,465.7 470.7,465.6 470.9,465.9 471.1,466.0 471.4,465.7 471.6,466.2 471.8,465.7 472.0,465.7 472.2,465.6 472.4,465.3 472.6,465.7 472.9,465.8 473.1,465.4 473.3,465.4 473.5,465.4 473.7,465.4 473.9,465.2 474.1,465.6 474.4,465.4 474.6,465.2 474.8,465.9 475.0,465.8 475.2,465.6 475.4,465.9 475.6,465.9 475.9,465.9 476.1,465.7 476.3,465.9 476.5,465.9 476.7,465.8 476.9,465.8 477.1,465.7 477.4,465.7 477.6,465.8 477.8,466.1 478.0,466.6 478.2,466.0 478.4,466.2 478.7,466.2 478.9,466.3 479.1,466.2 479.3,466.2 479.5,466.4 479.7,466.2 479.9,466.2 480.2,466.2 480.4,465.9 480.6,466.4 480.8,466.3 481.0,466.4 481.2,466.4 481.4,466.0 481.7,466.5 481.9,466.1 482.1,466.4 482.3,466.7 482.5,466.4 482.7,466.2 482.9,466.2 483.2,465.9 483.4,466.0 483.6,466.1 483.8,466.6 484.0,466.2 484.2,466.2 484.5,466.1 484.7,466.3 484.9,466.3 485.1,465.6 485.3,465.9 485.5,466.0 485.7,465.9 486.0,465.8 486.2,465.7 486.4,465.9 486.6,466.0 486.8,466.0 487.0,466.2 487.2,466.2 487.5,465.5 487.7,465.7 487.9,465.5 488.1,465.4 488.3,466.0 488.5,465.5 488.7,465.2 489.0,465.9 489.2,465.8 489.4,465.6 489.6,465.8 489.8,465.6 490.0,465.7 490.2,465.7 490.5,465.9 490.7,465.6 490.9,465.7 491.1,465.5 491.3,465.8 491.5,466.2 491.8,466.1 492.0,466.3 492.2,466.3 492.4,465.7 492.6,466.0 492.8,465.6 493.0,465.8 493.3,465.9 493.5,465.7 493.7,465.7 493.9,466.0 494.1,465.7 494.3,465.8 494.5,466.0 494.8,465.8 495.0,465.7 495.2,465.8 495.4,466.5 495.6,466.1 495.8,466.3 496.0,466.3 496.3,466.2 496.5,466.5 496.7,466.4 496.9,465.9 497.1,466.5 497.3,465.9 497.6,466.2 497.8,466.0 498.0,465.8 498.2,465.8 498.4,465.6 498.6,465.8 498.8,466.1 499.1,465.9 499.3,465.7 499.5,466.0 499.7,465.8 499.9,465.7 500.1,466.3 500.3,465.7 500.6,465.7 500.8,465.4 501.0,465.5 501.2,465.9 501.4,465.8 501.6,466.1 501.8,466.2 502.1,465.8 502.3,466.0 502.5,466.1 502.7,465.9 502.9,465.7 503.1,465.7 503.3,466.1 503.6,466.1 503.8,466.1 504.0,465.9 504.2,466.6 504.4,466.4 504.6,466.0 504.9,466.0 505.1,465.8 505.3,466.1 505.5,465.8 505.7,466.4 505.9,466.1 506.1,466.4 506.4,466.0 506.6,466.1 506.8,466.0 507.0,466.4"/>
<polyline class="curve" stroke="#EDB120" points="77.5,54.0 77.7,84.5 77.9,115.0 78.1,137.0 78.4,154.9 78.6,172.8 78.8,188.4 79.0,203.8 79.2,219.2 79.4,230.5 79.6,239.3 79.9,248.0 80.1,256.8 80.3,265.4 80.5,273.4 80.7,280.8 80.9,287.8 81.2,295.1 81.4,302.3 81.6,309.4 81.8,316.6 82.0,323.5 82.2,330.1 82.4,337.5 82.7,341.6 82.9,344.9 83.1,348.0 83.3,351.3 83.5,354.5 83.7,357.2 83.9,360.2 84.2,363.3 84.4,366.1 84.6,367.8 84.8,370.3 85.0,372.9 85.2,375.1 85.4,377.1 85.7,379.2 85.9,381.1 86.1,384.0 86.3,386.5 86.5,388.0 86.7,389.0 86.9,391.4 87.2,393.3 87.4,395.7 87.6,397.6 87.8,399.4 88.0,400.8 88.2,402.8 88.5,403.7 88.7,405.4 88.9,407.1 89.1,408.3 89.3,410.2 89.5,412.1 89.7,413.1 90.0,413.1 90.2,414.6 90.4,415.8 90.6,417.5 90.8,418.9 91.0,419.9 91.2,422.8 91.5,424.3 91.7,425.3 91.9,426.1 92.1,425.9 92.3,425.6 92.5,427.0 92.7,428.3 93.0,429.4 93.2,430.0 93.4,432.4 93.6,433.9 93.8,434.9 94.0,435.8 94.3,438.2 94.5,438.1 94.7,439.9 94.9,439.4 95.1,439.4 95.3,442.0 95.5,441.8 95.8,442.2 96.0,443.3 96.2,443.1 96.4,442.6 96.6,443.6 96.8,445.6 97.0,447.4 97.3,448.5 97.5,449.4 97.7,448.7 97.9,449.0 98.1,449.5 98.3,449.4 98.5,450.0 98.8,450.6 99.0,451.7 99.2,452.3 99.4,452.5 99.6,453.5 99.8,452.5 100.0,453.0 100.3,453.9 100.5,453.7 100.7,455.0 100.9,454.6 101.1,455.2 101.3,454.5 101.6,455.9 101.8,456.7 102.0,457.7 102.2,458.7 102.4,458.5 102.6,459.4 102.8,459.1 103.1,459.5 103.3,458.8 103.5,460.6 103.7,460.0 103.9,459.9 104.1,460.0 104.3,460.5 104.6,459.4 104.8,460.1 105.0,460.1 105.2,460.6 105.4,461.0 105.6,461.1 105.8,460.8 106.1,461.8 106.3,462.1 106.5,462.8 106.7,462.3 106.9,462.8 107.1,463.1 107.4,462.6 107.6,462.7 107.8,462.6 108.0,462.9 108.2,462.9 108.4,463.1 108.6,464.0 108.9,463.7 109.1,463.9 109.3,464.0 109.5,463.8 109.7,464.1 109.9,464.6 110.1,463.8 110.4,463.0 110.6,463.6 110.8,463.3 111.0,463.5 111.2,464.2 111.4,464.7 111.6,464.8 111.9,464.9 112.1,464.9 112.3,464.9 112.5,465.4 112.7,464.7 112.9,465.3 113.1,465.7 113.4,465.0 113.6,464.7 113.8,464.2 114.0,464.5 114.2,465.1 114.4,464.7 114.7,465.0 114.9,465.3 115.1,465.7 115.3,465.5 115.5,466.6 115.7,466.0 115.9,466.8 116.2,466.0 116.4,466.6 116.6,466.1 116.8,465.0 117.0,465.6 117.2,466.3 117.4,465.5 117.7,466.0 117.9,466.6 118.1,466.0 118.3,467.3 118.5,467.6 118.7,467.6 118.9,467.5 119.2,467.9 119.4,467.0 119.6,466.4 119.8,466.5 120.0,466.7 120.2,467.3 120.5,466.8 120.7,467.0 120.9,466.7 121.1,466.3 121.3,466.5 121.5,467.3 121.7,467.4 122.0,466.7 122.2,466.7 122.4,466.3 122.6,467.2 122.8,467.1 123.0,467.1 123.2,467.5 123.5,467.5 123.7,467.0 123.9,466.8 124.1,467.1 124.3,467.0 124.5,466.6 124.7,467.1 125.0,467.0 125.2,466.8 125.4,467.1 125.6,466.8 125.8,467.0 126.0,466.8 126.2,466.7 126.5,466.9 126.7,467.1 126.9,467.3 127.1,467.3 127.3,467.2 127.5,466.9 127.8,467.1 128.0,467.2 128.2,466.9 128.4,467.0 128.6,467.1 128.8,466.9 129.0,467.1 129.3,467.2 129.5,467.2 129.7,467.4 129.9,467.7 130.1,467.9 130.3,467.8 130.5,467.5 130.8,467.4 131.0,467.2 131.2,467.2 131.4,467.5 131.6,467.8 131.8,467.8 132.0,467.8 132.3,467.9 132.5,467.6 132.7,467.8 132.9,467.7 133.1,467.6 133.3,467.9 133.5,467.9 133.8,467.6 134.0,467.6 134.2,467.6 134.4,467.8 134.6,467.9 134.8,467.8 135.1,467.6 135.3,467.6 135.5,467.7 135.7,467.7 135.9,467.7 136.1,467.9 136.3,467.9 136.6,467.9 136.8,467.7 137.0,467.7 137.2,467.8 137.4,467.8 137.6,467.9 137.8,467.9 138.1,467.9 138.3,467.9 138.5,467.9 138.7,467.9 138.9,468.0 139.1,468.0 139.3,467.9 139.6,467.9 139.8,467.9 140.0,467.9 140.2,467.9 140.4,467.9 140.6,467.9 140.9,467.9 141.1,467.9 141.3,467.9 141.5,467.9 141.7,467.9 141.9,468.0 142.1,468.0 142.4,468.0 142.6,468.0 142.8,468.0 143.0,468.0 143.2,468.0 143.4,468.0 143.6,468.0 143.9,468.0 144.1,468.0 144.3,468.0 144.5,468.0 144.7,468.0 144.9,468.0 145.1,468.1 145.4,468.1 145.6,468.1 145.8,468.1 146.0,468.1 146.2,468.1 507.0,468.5"/>
</g>
<g class="lg">
<rect x="161.3" y="31.7" width="332.4" height="113.60000000000001" fill="#ffffff" stroke="#262626" stroke-width="1"/>
<line x1="165" y1="46.8" x2="203" y2="46.8" stroke="#0072BD" stroke-width="3.2"/>
<text transform="translate(205,55.1) scale(1,1.05)">Real AdaBoost testing error</text>
<line x1="165" y1="74.5" x2="203" y2="74.5" stroke="#D95319" stroke-width="3.2"/>
<text transform="translate(205,82.8) scale(1,1.05)">Real AdaBoost training error</text>
<line x1="165" y1="102.2" x2="203" y2="102.2" stroke="#808080" stroke-width="3.2"/>
<text transform="translate(205,110.5) scale(1,1.05)">Gentle AdaBoost testing error</text>
<line x1="165" y1="129.9" x2="203" y2="129.9" stroke="#EDB120" stroke-width="3.2"/>
<text transform="translate(205,138.2) scale(1,1.05)">Gentle AdaBoost training error</text>
</g>
<g class="xt">
<text transform="translate(77.8,501.1) scale(1,1.085)" text-anchor="middle">0</text>
<text transform="translate(163.6,501.1) scale(1,1.085)" text-anchor="middle">400</text>
<text transform="translate(249.4,501.1) scale(1,1.085)" text-anchor="middle">800</text>
<text transform="translate(335.2,501.1) scale(1,1.085)" text-anchor="middle">1200</text>
<text transform="translate(421.0,501.1) scale(1,1.085)" text-anchor="middle">1600</text>
<text transform="translate(506.8,501.1) scale(1,1.085)" text-anchor="middle">2000</text>
</g>
<g class="yt">
<text transform="translate(69.2,478.0) scale(1,1.107)" text-anchor="end">0</text>
<text transform="translate(69.2,387.8) scale(1,1.107)" text-anchor="end">0.4</text>
<text transform="translate(69.2,297.6) scale(1,1.107)" text-anchor="end">0.8</text>
<text transform="translate(69.2,207.4) scale(1,1.107)" text-anchor="end">1.2</text>
<text transform="translate(69.2,117.2) scale(1,1.107)" text-anchor="end">1.6</text>
<text transform="translate(69.2,27.0) scale(1,1.107)" text-anchor="end">2</text>
</g>
<text transform="translate(292.3,535.2) scale(1,1.04)" text-anchor="middle" font-size="28.1">N_estimators</text>
<text transform="translate(28.5,243.6) rotate(-90)" text-anchor="middle" font-size="28.5">MSE (m/Km)</text>
</svg>
</body></html>
